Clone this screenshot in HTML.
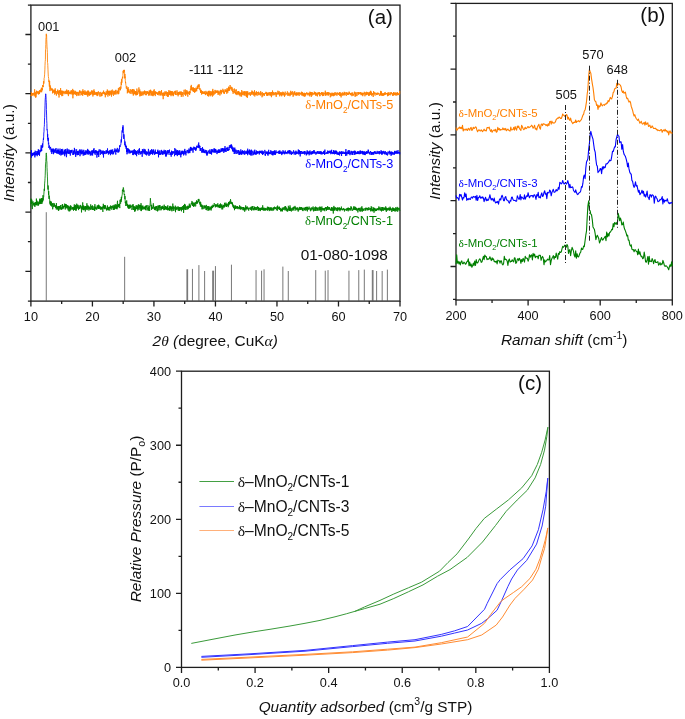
<!DOCTYPE html>
<html><head><meta charset="utf-8"><title>figure</title>
<style>html,body{margin:0;padding:0;background:#fff;width:685px;height:719px;overflow:hidden}svg{display:block}</style>
</head><body>
<svg width="685" height="719" viewBox="0 0 685 719" font-family="'Liberation Sans', Arial, sans-serif">
<rect x="30.9" y="5.1" width="369.1" height="296" fill="none" stroke="#1e1e1e" stroke-width="1.3"/>
<path d="M30.9 301.1v5.5 M92.42 301.1v5.5 M153.93 301.1v5.5 M215.45 301.1v5.5 M276.97 301.1v5.5 M338.48 301.1v5.5 M400 301.1v5.5 M61.66 301.1v3.0 M123.18 301.1v3.0 M184.69 301.1v3.0 M246.21 301.1v3.0 M307.73 301.1v3.0 M369.24 301.1v3.0" stroke="#1e1e1e" stroke-width="1.3" fill="none"/>
<path d="M30.9 34.5h-5.5 M30.9 93.7h-5.5 M30.9 152.9h-5.5 M30.9 212.1h-5.5 M30.9 271.3h-5.5 M30.9 5.1h-3.0 M30.9 64.1h-3.0 M30.9 123.3h-3.0 M30.9 182.5h-3.0 M30.9 241.7h-3.0 M30.9 301.1h-3.0" stroke="#1e1e1e" stroke-width="1.3" fill="none"/>
<text x="30.9" y="321.1" font-size="12.7" text-anchor="middle" fill="#111" >10</text>
<text x="92.42" y="321.1" font-size="12.7" text-anchor="middle" fill="#111" >20</text>
<text x="153.93" y="321.1" font-size="12.7" text-anchor="middle" fill="#111" >30</text>
<text x="215.45" y="321.1" font-size="12.7" text-anchor="middle" fill="#111" >40</text>
<text x="276.97" y="321.1" font-size="12.7" text-anchor="middle" fill="#111" >50</text>
<text x="338.48" y="321.1" font-size="12.7" text-anchor="middle" fill="#111" >60</text>
<text x="400" y="321.1" font-size="12.7" text-anchor="middle" fill="#111" >70</text>
<polyline points="30.9,95.2 31.1,96 31.2,95.1 31.4,92.2 31.5,96.1 31.7,95.3 31.8,93.5 32,95.5 32.1,95.1 32.3,94.9 32.4,94.4 32.6,95.3 32.7,93 32.9,94 33.1,93.4 33.2,95.3 33.4,94.3 33.5,93.7 33.7,92.8 33.8,93.7 34,94.1 34.1,93.6 34.3,96.3 34.4,95.8 34.6,89.3 34.7,90.7 34.9,93.7 35.1,93.2 35.2,94.3 35.4,94.2 35.5,97.5 35.7,91.9 35.8,93.1 36,97.3 36.1,94.8 36.3,94.8 36.4,92.7 36.6,90.7 36.7,93.8 36.9,93.7 37.1,91.3 37.2,92.2 37.4,93.2 37.5,91.6 37.7,93.1 37.8,93.3 38,93.2 38.1,92.2 38.3,94 38.4,94.5 38.6,93.4 38.7,91.3 38.9,94 39.1,91.7 39.2,94.1 39.4,90.6 39.5,93.9 39.7,92.2 39.8,90 40,91.5 40.1,92 40.3,92.2 40.4,89.9 40.6,89.6 40.7,91.7 40.9,90.3 41.1,91.4 41.2,92.1 41.4,87.7 41.5,90.8 41.7,92.2 41.8,89.3 42,88.1 42.1,90.5 42.3,89.3 42.4,90 42.6,87.4 42.7,85 42.9,86.8 43,85.6 43.2,87.1 43.4,85.3 43.5,81.3 43.7,81.1 43.8,83.7 44,82.1 44.1,78.4 44.3,77.9 44.4,76.9 44.6,74.8 44.7,73.1 44.9,69.2 45,65.4 45.2,61.5 45.4,59.8 45.5,49.7 45.7,48.8 45.8,44.6 46,37.9 46.1,37.6 46.3,33.8 46.4,35.9 46.6,35.3 46.7,39.3 46.9,44 47,46.9 47.2,49.3 47.4,52.7 47.5,62.5 47.7,63.1 47.8,65.5 48,69.9 48.1,72 48.3,76.1 48.4,76.6 48.6,78.3 48.7,78.5 48.9,81.9 49,80.4 49.2,84.3 49.4,86.7 49.5,82.2 49.7,81.3 49.8,87.2 50,91.1 50.1,85.5 50.3,85.5 50.4,89 50.6,86.9 50.7,87.8 50.9,88.4 51,90.2 51.2,88.8 51.4,90.2 51.5,89.6 51.7,88.6 51.8,89.7 52,88.8 52.1,90.6 52.3,88.7 52.4,88.9 52.6,93.4 52.7,90.9 52.9,91 53,92.1 53.2,90.6 53.4,91 53.5,92.2 53.7,92 53.8,89.6 54,93 54.1,90.7 54.3,89.9 54.4,90.2 54.6,91.1 54.7,94.6 54.9,89.9 55,92.2 55.2,88.3 55.4,92 55.5,93.6 55.7,91.6 55.8,91 56,92.5 56.1,93.4 56.3,93.3 56.4,95.6 56.6,92.6 56.7,91.3 56.9,92.1 57,92.2 57.2,92.5 57.4,92.3 57.5,92.7 57.7,89.6 57.8,93.9 58,91.5 58.1,90.5 58.3,93.6 58.4,94.8 58.6,93.4 58.7,92.8 58.9,91 59,97.5 59.2,94.1 59.4,90.7 59.5,91.3 59.7,92.8 59.8,90 60,92.9 60.1,91.9 60.3,94.8 60.4,94.3 60.6,88.1 60.7,92.8 60.9,90 61,94.6 61.2,93 61.4,93.7 61.5,90.9 61.7,95.9 61.8,96.2 62,91 62.1,93.4 62.3,91.7 62.4,92.8 62.6,90.7 62.7,96 62.9,91.2 63,92.3 63.2,93.7 63.4,91.8 63.5,92.5 63.7,91.9 63.8,92.6 64,90.9 64.1,92.1 64.3,92.5 64.4,92.3 64.6,93 64.7,92.4 64.9,94.2 65,92.4 65.2,92.7 65.3,91.8 65.5,92 65.7,90.8 65.8,93.8 66,91 66.1,91.7 66.3,93.6 66.4,93.6 66.6,92.3 66.7,89.5 66.9,93.7 67,93.4 67.2,90.6 67.3,94.3 67.5,91.8 67.7,91.1 67.8,93.2 68,92.7 68.1,93.3 68.3,90.3 68.4,96.1 68.6,92 68.7,90.4 68.9,94.1 69,92.4 69.2,93.6 69.3,92.4 69.5,92.9 69.7,93.4 69.8,91.8 70,94.2 70.1,92.2 70.3,91.6 70.4,93.2 70.6,93.8 70.7,92.7 70.9,91.6 71,94.1 71.2,90.1 71.3,91.3 71.5,93.1 71.7,90.8 71.8,93.1 72,93 72.1,94.6 72.3,91.5 72.4,92 72.6,93.6 72.7,88.9 72.9,98.3 73,91.9 73.2,91.8 73.3,94.5 73.5,93 73.7,90.1 73.8,94.1 74,94.5 74.1,92.3 74.3,92.6 74.4,93.9 74.6,91.6 74.7,93.8 74.9,93.4 75,92 75.2,90.8 75.3,92.7 75.5,91.6 75.7,94.8 75.8,93.3 76,94.4 76.1,93.3 76.3,93.6 76.4,91.8 76.6,94.2 76.7,96.1 76.9,92.6 77,92.1 77.2,92.9 77.3,92.3 77.5,91.9 77.7,93.4 77.8,92.6 78,95.5 78.1,93.1 78.3,93.7 78.4,94.7 78.6,92.6 78.7,95.5 78.9,92.1 79,91.8 79.2,92.5 79.3,92.9 79.5,90.8 79.7,93.1 79.8,90.3 80,95.5 80.1,93 80.3,92.1 80.4,91.6 80.6,92.5 80.7,92.8 80.9,91.4 81,91.6 81.2,92.8 81.3,92.3 81.5,94.7 81.7,95.1 81.8,93.2 82,93.9 82.1,90.9 82.3,94.2 82.4,93.1 82.6,94 82.7,95.8 82.9,89.3 83,93.6 83.2,91.3 83.3,94.1 83.5,91 83.7,92.3 83.8,93.5 84,94.2 84.1,93.3 84.3,91.8 84.4,92.2 84.6,94.6 84.7,93.2 84.9,90.3 85,94.6 85.2,93.9 85.3,94.6 85.5,92.6 85.6,94.5 85.8,91.4 86,94.1 86.1,92.3 86.3,94.3 86.4,94.8 86.6,91.9 86.7,93.1 86.9,93.2 87,95.2 87.2,94.4 87.3,91.1 87.5,93.9 87.6,94.4 87.8,96.7 88,90.4 88.1,92.3 88.3,95.4 88.4,90.9 88.6,91.2 88.7,94 88.9,94.9 89,92.1 89.2,94.1 89.3,93.4 89.5,95.7 89.6,93.2 89.8,94.8 90,91.7 90.1,92.9 90.3,93 90.4,95.1 90.6,94.1 90.7,91.9 90.9,94.3 91,94.5 91.2,93 91.3,92.7 91.5,92.9 91.6,90.4 91.8,93.5 92,93.6 92.1,91.7 92.3,94.4 92.4,90.9 92.6,92.3 92.7,92.4 92.9,96.5 93,90.5 93.2,94.1 93.3,94.7 93.5,93.8 93.6,95.1 93.8,91.5 94,89.4 94.1,94.4 94.3,91.2 94.4,92.6 94.6,91.2 94.7,94.9 94.9,94.6 95,92 95.2,94.7 95.3,93.4 95.5,92.9 95.6,93.3 95.8,92.8 96,94.2 96.1,93.7 96.3,92.6 96.4,94.8 96.6,92.2 96.7,93.6 96.9,93.9 97,95.6 97.2,92.3 97.3,96.1 97.5,93.5 97.6,92.8 97.8,92.1 98,94.1 98.1,93.2 98.3,91.3 98.4,91.3 98.6,92.2 98.7,92 98.9,95 99,95.4 99.2,94.6 99.3,93.8 99.5,92.5 99.6,93.2 99.8,94.6 100,96.7 100.1,94.7 100.3,92.7 100.4,93.2 100.6,92.4 100.7,91.9 100.9,92.8 101,93.5 101.2,96.2 101.3,93.2 101.5,95.4 101.6,96.1 101.8,93.3 102,95.8 102.1,94.3 102.3,92.4 102.4,93.6 102.6,93.2 102.7,92.8 102.9,92.8 103,93.4 103.2,93.8 103.3,91.7 103.5,93.1 103.6,90.6 103.8,93.5 104,94.1 104.1,93.4 104.3,93.6 104.4,94.1 104.6,92 104.7,92.7 104.9,93.9 105,94.7 105.2,93.7 105.3,97.3 105.5,92.9 105.6,94.7 105.8,95.2 106,92.9 106.1,91.7 106.3,91.1 106.4,93.3 106.6,94.9 106.7,93.5 106.9,93.3 107,92.4 107.2,94 107.3,89.5 107.5,93.4 107.6,93.1 107.8,90.8 107.9,96.6 108.1,90.8 108.3,91.3 108.4,91.1 108.6,94.8 108.7,91.6 108.9,94.1 109,94 109.2,93.4 109.3,90.8 109.5,92 109.6,95.7 109.8,90.9 109.9,91.6 110.1,92.7 110.3,94.3 110.4,93.3 110.6,94.1 110.7,91.2 110.9,94.5 111,93.8 111.2,90.3 111.3,95.4 111.5,96.6 111.6,91.6 111.8,92.9 111.9,95.1 112.1,90.4 112.3,89.6 112.4,90.7 112.6,91.9 112.7,91.8 112.9,93.8 113,93.2 113.2,90.7 113.3,93.6 113.5,95.8 113.6,94.6 113.8,94.3 113.9,92.7 114.1,94.2 114.3,91 114.4,93.8 114.6,92.4 114.7,94.4 114.9,93.3 115,90.7 115.2,92.6 115.3,94.4 115.5,90.5 115.6,91.4 115.8,91 115.9,89.8 116.1,93.8 116.3,94.3 116.4,93.4 116.6,92.5 116.7,92 116.9,92.4 117,90.7 117.2,93.3 117.3,93.5 117.5,93.2 117.6,90.8 117.8,91.7 117.9,91.2 118.1,94.3 118.3,91.6 118.4,88.1 118.6,91.7 118.7,94 118.9,91.9 119,92.1 119.2,90.6 119.3,87.1 119.5,87.2 119.6,87.9 119.8,89.5 119.9,90 120.1,90.3 120.3,88.3 120.4,90.1 120.6,87.7 120.7,86.6 120.9,88.7 121,85.3 121.2,81.8 121.3,83.9 121.5,85.1 121.6,79.2 121.8,82.8 121.9,81.9 122.1,79 122.3,77.8 122.4,78.2 122.6,76.8 122.7,78.3 122.9,75.5 123,70.9 123.2,70.8 123.3,72.2 123.5,73.2 123.6,70.2 123.8,69.9 123.9,72.6 124.1,70.1 124.3,70.5 124.4,69.9 124.6,72.6 124.7,78.4 124.9,74 125,77.7 125.2,76.7 125.3,80.4 125.5,82.8 125.6,82 125.8,84.5 125.9,85.4 126.1,85.7 126.3,88.4 126.4,87.5 126.6,86.3 126.7,86.2 126.9,86.4 127,89 127.2,88 127.3,93.3 127.5,92.2 127.6,89.1 127.8,89.2 127.9,92.7 128.1,87.1 128.3,89.6 128.4,92.1 128.6,89.2 128.7,90.1 128.9,90.4 129,92.2 129.2,91.4 129.3,92 129.5,92.4 129.6,91.6 129.8,93.4 129.9,90.5 130.1,89.5 130.2,89 130.4,89.3 130.6,91.1 130.7,93.7 130.9,92.4 131,91.2 131.2,90.5 131.3,91.4 131.5,91.6 131.6,91.4 131.8,90 131.9,91.6 132.1,94.1 132.2,89 132.4,92.1 132.6,89.1 132.7,92.8 132.9,91.4 133,89.3 133.2,92.8 133.3,95.6 133.5,92.8 133.6,94.6 133.8,92.6 133.9,89.3 134.1,93.5 134.2,92.1 134.4,90.4 134.6,94.1 134.7,93.3 134.9,92 135,94.2 135.2,91.5 135.3,93.9 135.5,91.4 135.6,93.8 135.8,91.2 135.9,95.3 136.1,93.4 136.2,95.2 136.4,91.6 136.6,92.2 136.7,94.3 136.9,88.6 137,91.3 137.2,94.7 137.3,93.8 137.5,94.6 137.6,92.5 137.8,93.9 137.9,91.9 138.1,90.9 138.2,90.4 138.4,92.2 138.6,92.2 138.7,92.1 138.9,87.4 139,89.9 139.2,92.3 139.3,93.6 139.5,92.2 139.6,91.7 139.8,89.5 139.9,96.4 140.1,91.4 140.2,95.8 140.4,95.6 140.6,93.6 140.7,92.3 140.9,93.4 141,91.3 141.2,93.6 141.3,93.2 141.5,94 141.6,94.7 141.8,96 141.9,92.6 142.1,94.9 142.2,91.9 142.4,91.8 142.6,92.2 142.7,91.7 142.9,94.8 143,94.7 143.2,95.3 143.3,93.2 143.5,93.7 143.6,92.3 143.8,91.4 143.9,94 144.1,93.7 144.2,91.5 144.4,94.2 144.6,90.5 144.7,93 144.9,92.3 145,92.4 145.2,91.5 145.3,94.8 145.5,94.2 145.6,95.2 145.8,93.5 145.9,91.2 146.1,92.7 146.2,91.4 146.4,94 146.6,95.2 146.7,93.8 146.9,92.3 147,92.7 147.2,93.6 147.3,91 147.5,93.5 147.6,93.6 147.8,92.4 147.9,92.6 148.1,93.5 148.2,92 148.4,92 148.6,94.5 148.7,93.6 148.9,95.9 149,91.7 149.2,90.5 149.3,94.8 149.5,94.8 149.6,92.1 149.8,91 149.9,93.2 150.1,90.5 150.2,92.7 150.4,89.8 150.5,92.9 150.7,89.9 150.9,92.9 151,95.7 151.2,92.9 151.3,94.5 151.5,92.3 151.6,91.9 151.8,90.9 151.9,94.9 152.1,93.2 152.2,95.8 152.4,91.4 152.5,92.9 152.7,93.4 152.9,95.5 153,96.2 153.2,92.3 153.3,91.5 153.5,90.5 153.6,95.4 153.8,93.1 153.9,92.3 154.1,93.2 154.2,89.3 154.4,90.6 154.5,94.8 154.7,93.9 154.9,93.5 155,91.7 155.2,94.2 155.3,96.1 155.5,91.4 155.6,93.3 155.8,92.6 155.9,93.9 156.1,93.3 156.2,93.1 156.4,91.9 156.5,93.3 156.7,92.3 156.9,93.1 157,93.2 157.2,94.3 157.3,92.4 157.5,92.8 157.6,95 157.8,93 157.9,92.9 158.1,94.7 158.2,93.7 158.4,93.5 158.5,93.7 158.7,91.4 158.9,94 159,95.4 159.2,94.2 159.3,90.9 159.5,93.8 159.6,91.9 159.8,93 159.9,93.5 160.1,91.5 160.2,95.4 160.4,93.2 160.5,94.6 160.7,94.3 160.9,95.4 161,95.2 161.2,91.1 161.3,93.4 161.5,90 161.6,92.7 161.8,94.5 161.9,94.8 162.1,95.4 162.2,92.8 162.4,93.9 162.5,93.5 162.7,95.3 162.9,95.8 163,92.8 163.2,99.2 163.3,93.4 163.5,92.8 163.6,94.3 163.8,94.5 163.9,94.2 164.1,92.4 164.2,95.7 164.4,93.5 164.5,95.8 164.7,95.5 164.9,91.4 165,91.9 165.2,91.8 165.3,93.8 165.5,93.5 165.6,93.8 165.8,92.1 165.9,94.1 166.1,95.6 166.2,91.3 166.4,93.1 166.5,93.8 166.7,93.2 166.9,93.1 167,96.1 167.2,95.4 167.3,94.7 167.5,92.2 167.6,96.9 167.8,94 167.9,92.5 168.1,92.9 168.2,92.7 168.4,96.7 168.5,93.7 168.7,93.5 168.9,90.1 169,94.6 169.2,91.8 169.3,91.7 169.5,94.4 169.6,92.1 169.8,94.7 169.9,95.1 170.1,90.7 170.2,93.2 170.4,91 170.5,93.3 170.7,94.8 170.9,91.3 171,96.2 171.2,93 171.3,91.6 171.5,93.2 171.6,94.6 171.8,91.3 171.9,93.4 172.1,91.3 172.2,95.3 172.4,93.7 172.5,92.8 172.7,95 172.8,91.5 173,92.8 173.2,96.2 173.3,93.2 173.5,95.5 173.6,93.7 173.8,92.4 173.9,93.1 174.1,93.5 174.2,92.8 174.4,92.2 174.5,92.2 174.7,91.2 174.8,93.6 175,94 175.2,94.6 175.3,90.7 175.5,94.7 175.6,93.4 175.8,91.3 175.9,93.6 176.1,94.7 176.2,94.2 176.4,94.5 176.5,94.9 176.7,94.8 176.8,93.4 177,90.3 177.2,92.3 177.3,94 177.5,92.7 177.6,94.5 177.8,94.6 177.9,93.5 178.1,96.3 178.2,92 178.4,94.8 178.5,92.7 178.7,92.3 178.8,94.3 179,92.5 179.2,94.7 179.3,91.7 179.5,93.5 179.6,92.2 179.8,93.1 179.9,92.9 180.1,91.8 180.2,94.4 180.4,91.6 180.5,92 180.7,94.8 180.8,94.9 181,94.5 181.2,94 181.3,96.9 181.5,91.6 181.6,92.3 181.8,92 181.9,94.8 182.1,93.9 182.2,95.1 182.4,94.9 182.5,93.1 182.7,92.2 182.8,92 183,96.7 183.2,94.9 183.3,94.3 183.5,92.9 183.6,93.1 183.8,92.9 183.9,92.9 184.1,89.8 184.2,93.3 184.4,92.8 184.5,93.8 184.7,93.7 184.8,94.6 185,93.3 185.2,94.5 185.3,89.5 185.5,91.7 185.6,95.9 185.8,91.5 185.9,92.8 186.1,94.3 186.2,91.9 186.4,94.3 186.5,91.1 186.7,90.3 186.8,91.2 187,90.6 187.2,93 187.3,92.6 187.5,93.5 187.6,91.4 187.8,96.7 187.9,92.8 188.1,92.8 188.2,93.5 188.4,92.4 188.5,91.8 188.7,92.8 188.8,94 189,93.5 189.2,93.8 189.3,91.5 189.5,91.1 189.6,95 189.8,91.5 189.9,92.3 190.1,92.5 190.2,93.2 190.4,88.8 190.5,89.8 190.7,89.5 190.8,89.4 191,86 191.2,89.2 191.3,84.9 191.5,89.5 191.6,89.8 191.8,89.9 191.9,87.4 192.1,90.7 192.2,88.2 192.4,87.8 192.5,88.3 192.7,88.7 192.8,90.3 193,91.4 193.2,87.2 193.3,89.6 193.5,91.7 193.6,90.7 193.8,91.1 193.9,88.2 194.1,91.7 194.2,88 194.4,90.5 194.5,92.2 194.7,92.9 194.8,90.9 195,91.4 195.1,89.2 195.3,89.3 195.5,91.7 195.6,89.9 195.8,89.6 195.9,87.7 196.1,89.9 196.2,90.5 196.4,88.2 196.5,88.5 196.7,91.3 196.8,89 197,88 197.1,86.5 197.3,86.9 197.5,87 197.6,89 197.8,85.8 197.9,89 198.1,84.8 198.2,85.4 198.4,87.1 198.5,85.5 198.7,84.7 198.8,86 199,87.1 199.1,84.3 199.3,86.9 199.5,87.5 199.6,87.6 199.8,89.7 199.9,88.2 200.1,88.9 200.2,89.9 200.4,91.3 200.5,90.2 200.7,92.9 200.8,89.7 201,93 201.1,90.1 201.3,91.2 201.5,92.1 201.6,94.6 201.8,93.1 201.9,91.3 202.1,93.8 202.2,91.7 202.4,91 202.5,92.8 202.7,92.4 202.8,93.7 203,91.6 203.1,93 203.3,93.4 203.5,92.9 203.6,92.6 203.8,91.7 203.9,94 204.1,92.9 204.2,93.5 204.4,92.3 204.5,92.9 204.7,91.4 204.8,93.1 205,94.1 205.1,93.2 205.3,94.3 205.5,93.6 205.6,95.1 205.8,92.9 205.9,90.9 206.1,93.8 206.2,93 206.4,91.9 206.5,94.2 206.7,93.7 206.8,94 207,92.9 207.1,93.6 207.3,93.7 207.5,95.9 207.6,92.4 207.8,93.4 207.9,94 208.1,91 208.2,91.2 208.4,96.5 208.5,91 208.7,94.3 208.8,92.3 209,92.4 209.1,90.7 209.3,92.2 209.5,94.6 209.6,91.5 209.8,94.3 209.9,93.9 210.1,96.3 210.2,92.8 210.4,95.2 210.5,94.7 210.7,93 210.8,91.1 211,95.5 211.1,91.4 211.3,92.7 211.5,94.6 211.6,94.9 211.8,92.1 211.9,93.2 212.1,92.8 212.2,94.8 212.4,96.6 212.5,90.5 212.7,94.3 212.8,88.9 213,92.9 213.1,91.2 213.3,95.5 213.5,92.9 213.6,91.6 213.8,91.9 213.9,91.7 214.1,92.7 214.2,92.2 214.4,93.2 214.5,94.4 214.7,93.2 214.8,90.5 215,89.9 215.1,91.1 215.3,93.6 215.5,91.6 215.6,91.1 215.8,92.2 215.9,90.1 216.1,90.4 216.2,92.8 216.4,91.6 216.5,91.4 216.7,92.5 216.8,91.3 217,91.2 217.1,91.5 217.3,93 217.4,92.3 217.6,90.5 217.8,91.8 217.9,93.2 218.1,94.9 218.2,90.7 218.4,92.8 218.5,91.9 218.7,93.5 218.8,92.9 219,94.4 219.1,93 219.3,91.5 219.4,91.5 219.6,92.8 219.8,92.8 219.9,95.5 220.1,94.5 220.2,90.5 220.4,92.6 220.5,90.2 220.7,89.8 220.8,93 221,92.7 221.1,90.5 221.3,94.2 221.4,90.5 221.6,90.2 221.8,92.6 221.9,92 222.1,91.4 222.2,91.5 222.4,91.8 222.5,91.3 222.7,91.2 222.8,88.8 223,89.5 223.1,92.1 223.3,90.3 223.4,91.9 223.6,92.8 223.8,90.6 223.9,91.4 224.1,93.9 224.2,91.9 224.4,93.5 224.5,93 224.7,91.9 224.8,90.6 225,89.6 225.1,89.2 225.3,91.4 225.4,91.3 225.6,90.4 225.8,91.8 225.9,89.7 226.1,92.1 226.2,90.6 226.4,90.5 226.5,90.5 226.7,90.3 226.8,93.8 227,88.2 227.1,90.6 227.3,92.1 227.4,91.3 227.6,89.9 227.8,92.7 227.9,88.8 228.1,88.4 228.2,90.9 228.4,88 228.5,86.7 228.7,91 228.8,90.6 229,90.4 229.1,88.5 229.3,89.2 229.4,87.3 229.6,90.7 229.8,89.2 229.9,88.9 230.1,85 230.2,88.5 230.4,89.2 230.5,88.8 230.7,88.1 230.8,87.1 231,86.7 231.1,88.1 231.3,88 231.4,88 231.6,87.6 231.8,90.6 231.9,87.1 232.1,89 232.2,88.6 232.4,91.1 232.5,91.9 232.7,92 232.8,91.6 233,88.9 233.1,93.8 233.3,91.9 233.4,91.2 233.6,91.5 233.8,91.1 233.9,92.3 234.1,92.2 234.2,91.4 234.4,88.5 234.5,92 234.7,92.7 234.8,92.8 235,92 235.1,92.8 235.3,93.7 235.4,91.7 235.6,94.3 235.8,89.8 235.9,90.8 236.1,91.3 236.2,89.3 236.4,91.3 236.5,94.3 236.7,94.3 236.8,92.8 237,95.1 237.1,93.1 237.3,92.2 237.4,93.2 237.6,92.7 237.7,93.9 237.9,91 238.1,94.3 238.2,92.4 238.4,94.2 238.5,91 238.7,92.6 238.8,93.2 239,94.4 239.1,91.6 239.3,95.4 239.4,93.9 239.6,92.6 239.7,94.9 239.9,93.4 240.1,94.9 240.2,96.4 240.4,94.4 240.5,92.7 240.7,92.8 240.8,94.2 241,93.8 241.1,92.3 241.3,92.6 241.4,94.3 241.6,96.6 241.7,90 241.9,94.5 242.1,93.2 242.2,94.5 242.4,94.7 242.5,93.6 242.7,92.2 242.8,91.7 243,91.1 243.1,95.2 243.3,93.3 243.4,92.9 243.6,93.2 243.7,91.8 243.9,94 244.1,95.3 244.2,95.1 244.4,91.5 244.5,95.4 244.7,92.6 244.8,91.1 245,92 245.1,92.4 245.3,93.6 245.4,92.3 245.6,91.6 245.7,93.3 245.9,96.2 246.1,92.7 246.2,94.3 246.4,93.7 246.5,97.1 246.7,91.2 246.8,95.1 247,92 247.1,92.9 247.3,93.5 247.4,97.8 247.6,92.7 247.7,91.2 247.9,95.4 248.1,92.6 248.2,93.3 248.4,93.6 248.5,93.8 248.7,93.4 248.8,94 249,94.2 249.1,94.8 249.3,93.1 249.4,92.7 249.6,92.3 249.7,94.4 249.9,93.6 250.1,94.4 250.2,94.4 250.4,95.9 250.5,93.9 250.7,94.6 250.8,92.1 251,92.3 251.1,93.3 251.3,92.1 251.4,94.6 251.6,91.9 251.7,93.8 251.9,90.5 252.1,92.2 252.2,93.2 252.4,93.3 252.5,91.4 252.7,93.8 252.8,94.9 253,94.5 253.1,92.8 253.3,92.9 253.4,92.1 253.6,94.5 253.7,95.5 253.9,93 254.1,91.5 254.2,93.9 254.4,94.6 254.5,90.2 254.7,93.9 254.8,96.5 255,94.7 255.1,94.4 255.3,94.2 255.4,95 255.6,92.5 255.7,92.6 255.9,94.2 256.1,92.8 256.2,94 256.4,91.2 256.5,94.7 256.7,94.8 256.8,93.7 257,93.9 257.1,95.8 257.3,92.3 257.4,92.5 257.6,92.3 257.7,93.1 257.9,92.4 258.1,93.7 258.2,92.9 258.4,91.8 258.5,91.7 258.7,95.2 258.8,93.6 259,93.4 259.1,93.7 259.3,93.6 259.4,94.7 259.6,94.4 259.7,92.9 259.9,92.6 260,92.3 260.2,92.1 260.4,95.5 260.5,92.5 260.7,91.1 260.8,92.6 261,92.7 261.1,94.1 261.3,92.6 261.4,94.4 261.6,94.2 261.7,95.3 261.9,96.4 262,97.3 262.2,95.4 262.4,92.2 262.5,93.2 262.7,94 262.8,96.3 263,94.6 263.1,95.2 263.3,93.5 263.4,94.4 263.6,94.6 263.7,93.1 263.9,94.7 264,95.1 264.2,93.5 264.4,95 264.5,95.8 264.7,93.8 264.8,93.7 265,93.3 265.1,92.9 265.3,93.9 265.4,93.2 265.6,93.3 265.7,92.7 265.9,91.8 266,92.5 266.2,94.1 266.4,92.2 266.5,92.9 266.7,95.8 266.8,95.1 267,92.8 267.1,94.5 267.3,92.9 267.4,95.7 267.6,93 267.7,93.8 267.9,95.4 268,92.7 268.2,95.3 268.4,92.7 268.5,94 268.7,93.3 268.8,93.6 269,93.9 269.1,93.6 269.3,92.4 269.4,94.8 269.6,94.6 269.7,95.3 269.9,95.4 270,92 270.2,95.3 270.4,95.3 270.5,93.1 270.7,95 270.8,95.5 271,93 271.1,92 271.3,93.3 271.4,97.2 271.6,94 271.7,92.2 271.9,93.4 272,92.5 272.2,93.2 272.4,93.8 272.5,90.5 272.7,94.2 272.8,95.5 273,93.5 273.1,93.2 273.3,95.1 273.4,92.2 273.6,92.2 273.7,92 273.9,93.5 274,94.2 274.2,93.6 274.4,94.4 274.5,94.7 274.7,94.3 274.8,92.7 275,93.4 275.1,95.3 275.3,92.4 275.4,93.4 275.6,93.2 275.7,93.5 275.9,92.4 276,92.1 276.2,96.9 276.4,94.9 276.5,92.9 276.7,93.7 276.8,94.6 277,93.3 277.1,94.5 277.3,93 277.4,93.3 277.6,93.6 277.7,93.2 277.9,90.7 278,93.8 278.2,94.1 278.4,94.3 278.5,92.5 278.7,94.2 278.8,94 279,91.6 279.1,91 279.3,94.3 279.4,92.6 279.6,95 279.7,96.3 279.9,93 280,92.9 280.2,93.7 280.4,94.6 280.5,92.3 280.7,95.3 280.8,94.9 281,94.5 281.1,93.1 281.3,94.9 281.4,94.8 281.6,92.3 281.7,96.3 281.9,93.4 282,94.2 282.2,93.1 282.3,94.2 282.5,95.2 282.7,92.8 282.8,91.7 283,93.2 283.1,92.2 283.3,92.8 283.4,93.6 283.6,93.7 283.7,95.3 283.9,92.5 284,94.2 284.2,93.1 284.3,95.4 284.5,96.8 284.7,94.1 284.8,95.8 285,93.1 285.1,91.8 285.3,92.2 285.4,91.8 285.6,92.6 285.7,93.5 285.9,95.1 286,94.6 286.2,94.3 286.3,93.2 286.5,92.9 286.7,93.8 286.8,93.9 287,94.1 287.1,94.2 287.3,93.6 287.4,91.4 287.6,92.4 287.7,92.8 287.9,95.8 288,93.2 288.2,94.6 288.3,95.5 288.5,94.2 288.7,93.3 288.8,93.4 289,92.5 289.1,94.1 289.3,95.1 289.4,94.4 289.6,94.7 289.7,94.6 289.9,96.2 290,93 290.2,93.9 290.3,94.6 290.5,95.3 290.7,90.8 290.8,93.1 291,93.5 291.1,92.5 291.3,94.8 291.4,94 291.6,93.3 291.7,91.8 291.9,92.2 292,92.6 292.2,94.3 292.3,92.3 292.5,91.3 292.7,92 292.8,93 293,95.8 293.1,96.8 293.3,93.2 293.4,94.9 293.6,95.5 293.7,95.3 293.9,93.6 294,92.2 294.2,93.2 294.3,91.5 294.5,94.1 294.7,94.7 294.8,91.5 295,93.7 295.1,94.1 295.3,95.3 295.4,95.4 295.6,94.7 295.7,92.9 295.9,93.3 296,95.2 296.2,93 296.3,93.7 296.5,95.6 296.7,93.9 296.8,92.1 297,93.4 297.1,94.5 297.3,93.5 297.4,95.2 297.6,95.3 297.7,93 297.9,93.2 298,93.6 298.2,92.3 298.3,94.2 298.5,93.6 298.7,94.7 298.8,93.1 299,92.7 299.1,96 299.3,92.7 299.4,93.1 299.6,92.9 299.7,93.4 299.9,92.7 300,93.7 300.2,92.9 300.3,93.3 300.5,94.2 300.7,94.6 300.8,94.3 301,92.9 301.1,94.3 301.3,93.6 301.4,93.7 301.6,91.7 301.7,94.6 301.9,93.6 302,95.8 302.2,94.6 302.3,92.4 302.5,92.1 302.6,95.2 302.8,92.7 303,94.6 303.1,93.4 303.3,96.3 303.4,93.9 303.6,95.6 303.7,95.4 303.9,93.2 304,93.4 304.2,95.6 304.3,93.8 304.5,92.8 304.6,95.2 304.8,96.9 305,93.8 305.1,95.5 305.3,93.6 305.4,95.4 305.6,93.5 305.7,95.4 305.9,94.5 306,93.6 306.2,94.1 306.3,93.2 306.5,92.5 306.6,92.6 306.8,93.8 307,92.6 307.1,94.4 307.3,94.5 307.4,94.4 307.6,93.3 307.7,93.9 307.9,93.8 308,95.4 308.2,92.9 308.3,93.4 308.5,93.6 308.6,93.7 308.8,93 309,93.1 309.1,95.1 309.3,93.1 309.4,95 309.6,96.3 309.7,95.4 309.9,91.7 310,94.8 310.2,94.5 310.3,94.5 310.5,92 310.6,94.8 310.8,92.6 311,95.4 311.1,95.2 311.3,96.9 311.4,93.4 311.6,92.1 311.7,95.1 311.9,94.9 312,93.4 312.2,95.5 312.3,94.7 312.5,92.4 312.6,93.5 312.8,93.4 313,93.8 313.1,94.1 313.3,93.1 313.4,93.6 313.6,94.6 313.7,93.8 313.9,93.6 314,93.5 314.2,93.8 314.3,91.6 314.5,94.1 314.6,92.7 314.8,94 315,92.1 315.1,95 315.3,94.2 315.4,92.3 315.6,94.2 315.7,93 315.9,96 316,94.5 316.2,92.9 316.3,94.2 316.5,93.9 316.6,95.3 316.8,94.3 317,94.5 317.1,92.6 317.3,94.8 317.4,96.4 317.6,94.6 317.7,93.9 317.9,94.1 318,92.8 318.2,94.1 318.3,92.6 318.5,94 318.6,93.4 318.8,92.9 319,94.6 319.1,92.1 319.3,93.9 319.4,92.3 319.6,96.1 319.7,96.2 319.9,94.9 320,96.1 320.2,94.6 320.3,94.5 320.5,93.4 320.6,92.9 320.8,94.1 321,93.3 321.1,93.4 321.3,94.8 321.4,93.8 321.6,92.1 321.7,93.7 321.9,93 322,93.6 322.2,92.6 322.3,95.3 322.5,96.1 322.6,92.6 322.8,94.7 323,94.6 323.1,92.6 323.3,94 323.4,95.6 323.6,94.9 323.7,95.8 323.9,92.5 324,93 324.2,94.2 324.3,94.3 324.5,93.9 324.6,93.4 324.8,93.4 324.9,93.2 325.1,94.4 325.3,90.7 325.4,95.8 325.6,93.3 325.7,92.2 325.9,94.5 326,92.3 326.2,94.3 326.3,93.4 326.5,94.6 326.6,94.8 326.8,95.4 326.9,93.3 327.1,93.5 327.3,93.9 327.4,92.2 327.6,94.6 327.7,94 327.9,92.3 328,95.3 328.2,95.5 328.3,92.3 328.5,94.6 328.6,95.3 328.8,94.9 328.9,92.7 329.1,92.3 329.3,93.7 329.4,93.3 329.6,93.9 329.7,93.8 329.9,94.5 330,93.2 330.2,93.7 330.3,97.3 330.5,93.7 330.6,94.7 330.8,94.2 330.9,94.1 331.1,92.8 331.3,94.5 331.4,93.8 331.6,94.8 331.7,96.3 331.9,94.1 332,94.8 332.2,92.7 332.3,94 332.5,95.7 332.6,93.8 332.8,93.1 332.9,94.1 333.1,93.7 333.3,93.6 333.4,93.4 333.6,96.2 333.7,92.9 333.9,93.4 334,93.2 334.2,95.3 334.3,93.6 334.5,95.4 334.6,94.1 334.8,93.9 334.9,92.2 335.1,95.3 335.3,94.5 335.4,94.4 335.6,93.7 335.7,93.4 335.9,92.4 336,95 336.2,94.2 336.3,93.5 336.5,93.2 336.6,94 336.8,93.8 336.9,95.8 337.1,94.8 337.3,93.2 337.4,92.6 337.6,93.6 337.7,92.8 337.9,94 338,94.4 338.2,94.6 338.3,94.4 338.5,93.7 338.6,94.6 338.8,92.9 338.9,93.8 339.1,94.8 339.3,94.2 339.4,92.4 339.6,92.6 339.7,92 339.9,96 340,92.1 340.2,93.7 340.3,96 340.5,95.1 340.6,95.4 340.8,93.3 340.9,94.8 341.1,97.4 341.3,93.9 341.4,94.4 341.6,93.5 341.7,93.9 341.9,94.3 342,95.5 342.2,92.9 342.3,92.3 342.5,93.9 342.6,94.2 342.8,95.5 342.9,94.7 343.1,93.2 343.3,94.6 343.4,95.2 343.6,94.2 343.7,93.5 343.9,94.7 344,93.5 344.2,91.8 344.3,95.4 344.5,92.4 344.6,93.5 344.8,93.6 344.9,93.5 345.1,93.6 345.3,92.3 345.4,94.5 345.6,93.9 345.7,94 345.9,95.1 346,95.2 346.2,95.4 346.3,96 346.5,94.4 346.6,92.2 346.8,94.2 346.9,93.9 347.1,94 347.2,93.2 347.4,92.9 347.6,94.8 347.7,95 347.9,92.6 348,94.5 348.2,93.7 348.3,93.5 348.5,94.7 348.6,93.9 348.8,93.3 348.9,94 349.1,91.6 349.2,93.2 349.4,93.4 349.6,92.3 349.7,94.1 349.9,94.2 350,93.2 350.2,93.7 350.3,94.7 350.5,95.1 350.6,93 350.8,94.3 350.9,95.1 351.1,93.9 351.2,93 351.4,93 351.6,93.5 351.7,92.7 351.9,96.2 352,93.3 352.2,94.3 352.3,94.1 352.5,94.6 352.6,93.5 352.8,92.4 352.9,95.8 353.1,93.8 353.2,94 353.4,94.1 353.6,95.3 353.7,94.8 353.9,95.2 354,94.8 354.2,94.1 354.3,94.2 354.5,93.1 354.6,91.7 354.8,93.6 354.9,92.7 355.1,96.8 355.2,95.7 355.4,95.2 355.6,93.3 355.7,96.2 355.9,92 356,92.5 356.2,93 356.3,92.8 356.5,94.1 356.6,94.1 356.8,96.1 356.9,95 357.1,95.3 357.2,94.4 357.4,93.7 357.6,93.1 357.7,92.2 357.9,92.9 358,93.5 358.2,94.8 358.3,92 358.5,92.4 358.6,94.2 358.8,92.7 358.9,94.3 359.1,93.4 359.2,93.1 359.4,92.4 359.6,93.8 359.7,93.1 359.9,93.2 360,93.2 360.2,94.1 360.3,94.1 360.5,92 360.6,93.7 360.8,94.4 360.9,95.1 361.1,94.8 361.2,94.2 361.4,92.6 361.6,93 361.7,94.9 361.9,93.1 362,95.1 362.2,95.4 362.3,92.7 362.5,94.4 362.6,93.8 362.8,96.2 362.9,94.9 363.1,93.3 363.2,94.4 363.4,92.9 363.6,93.7 363.7,94.2 363.9,94.1 364,94.3 364.2,92.9 364.3,91.8 364.5,93.5 364.6,92.9 364.8,93.1 364.9,96.3 365.1,95.2 365.2,93.7 365.4,92.3 365.6,92.5 365.7,94.3 365.9,95.1 366,93.6 366.2,94.1 366.3,94.2 366.5,95.1 366.6,91.8 366.8,94.1 366.9,94.4 367.1,95 367.2,94.4 367.4,92.7 367.5,93.3 367.7,92.2 367.9,94.1 368,94.1 368.2,94.5 368.3,92.8 368.5,92.7 368.6,95.6 368.8,94.1 368.9,95.9 369.1,94.4 369.2,92.3 369.4,94.8 369.5,95.3 369.7,93.4 369.9,91.8 370,94.7 370.2,93.8 370.3,94.2 370.5,90.9 370.6,94.4 370.8,90.9 370.9,93 371.1,94.9 371.2,91.9 371.4,91.9 371.5,93.4 371.7,95.8 371.9,95.7 372,93.3 372.2,95.1 372.3,94.6 372.5,94.2 372.6,94.3 372.8,93.1 372.9,94.8 373.1,95.1 373.2,97 373.4,95 373.5,91.2 373.7,92.6 373.9,94.3 374,94 374.2,91.9 374.3,93.8 374.5,93.5 374.6,93.9 374.8,93.8 374.9,95 375.1,95.6 375.2,94.7 375.4,92.7 375.5,93 375.7,93.2 375.9,93.9 376,93.5 376.2,93.6 376.3,92.9 376.5,95 376.6,94.9 376.8,95 376.9,93.9 377.1,94.4 377.2,92.9 377.4,92.8 377.5,93.3 377.7,94.6 377.9,93.8 378,92.7 378.2,94.1 378.3,94.4 378.5,94.1 378.6,93.2 378.8,94 378.9,93.5 379.1,93.6 379.2,93.9 379.4,94.8 379.5,96 379.7,95.7 379.9,94.6 380,93.5 380.2,93.6 380.3,93.7 380.5,95.2 380.6,90.9 380.8,94.2 380.9,91.8 381.1,94 381.2,95.4 381.4,93 381.5,91.4 381.7,95.4 381.9,95.6 382,94.5 382.2,95.3 382.3,93.1 382.5,95.3 382.6,95.8 382.8,94.7 382.9,94.3 383.1,95.4 383.2,95.2 383.4,93.1 383.5,95.5 383.7,94.8 383.9,94.1 384,95.4 384.2,95 384.3,94.8 384.5,93.4 384.6,94.9 384.8,92.7 384.9,93.8 385.1,92.1 385.2,92.1 385.4,94.5 385.5,93.9 385.7,94.1 385.9,94.6 386,94.4 386.2,93 386.3,94 386.5,93.9 386.6,93.4 386.8,93.8 386.9,93.6 387.1,93.3 387.2,93.6 387.4,94.2 387.5,96.2 387.7,93.1 387.9,94.5 388,92.4 388.2,95.7 388.3,93.6 388.5,94.1 388.6,95.4 388.8,95.1 388.9,92.3 389.1,94.6 389.2,93.7 389.4,94.7 389.5,94.1 389.7,94.8 389.8,94.3 390,93.8 390.2,95.3 390.3,92.3 390.5,93.5 390.6,92.9 390.8,93.8 390.9,93.5 391.1,93.8 391.2,93.4 391.4,93.5 391.5,92.2 391.7,93.9 391.8,94.3 392,93.3 392.2,93.3 392.3,93.3 392.5,95.8 392.6,94.2 392.8,94.4 392.9,93.7 393.1,93.4 393.2,93 393.4,95.7 393.5,92.1 393.7,94.3 393.8,94 394,93.7 394.2,92.3 394.3,92.6 394.5,95.1 394.6,93.2 394.8,94.9 394.9,94.7 395.1,94.6 395.2,94.8 395.4,92.7 395.5,93.5 395.7,94.7 395.8,92.6 396,95.8 396.2,93.4 396.3,93.9 396.5,92.9 396.6,94.4 396.8,93.2 396.9,93.7 397.1,92.8 397.2,95.3 397.4,92.2 397.5,94.5 397.7,94.3 397.8,94.5 398,92.9 398.2,95.1 398.3,95 398.5,94.2 398.6,94.3 398.8,93.8 398.9,94.7 399.1,93.1 399.2,94.6 399.4,94.4 399.5,92.5 399.7,91.1 399.8,93.9 400,93.8" fill="none" stroke="#ff7f00" stroke-width="0.85" stroke-linejoin="round" />
<polyline points="30.9,154.9 31.1,153.6 31.2,153.8 31.4,150.2 31.5,157.6 31.7,156.4 31.8,153.8 32,155.7 32.1,154.8 32.3,153.3 32.4,156 32.6,153.7 32.7,153.7 32.9,152.8 33.1,155 33.2,154 33.4,155.1 33.5,153 33.7,154.3 33.8,152.5 34,155.4 34.1,154.3 34.3,154.5 34.4,154.6 34.6,152.1 34.7,155.2 34.9,157.4 35.1,150.9 35.2,150.7 35.4,151 35.5,155.1 35.7,153.8 35.8,155.4 36,154.7 36.1,153.8 36.3,153.9 36.4,153 36.6,154.8 36.7,151.2 36.9,152.4 37.1,153.5 37.2,156.2 37.4,151.6 37.5,151 37.7,151.9 37.8,154.4 38,152.3 38.1,154.9 38.3,149.3 38.4,154.4 38.6,154.1 38.7,149.8 38.9,152.4 39.1,154.1 39.2,152.1 39.4,153.5 39.5,155.8 39.7,152 39.8,150.9 40,149.9 40.1,152.2 40.3,150.5 40.4,150.4 40.6,150.3 40.7,151.4 40.9,148.1 41.1,147.1 41.2,145.2 41.4,151.2 41.5,148.9 41.7,151 41.8,147.9 42,146.2 42.1,147.8 42.3,146.2 42.4,143.6 42.6,143.5 42.7,147.3 42.9,143.9 43,142.9 43.2,140.6 43.4,138.5 43.5,139.7 43.7,136.2 43.8,133 44,131.8 44.1,127.7 44.3,126.5 44.4,124.7 44.6,117.4 44.7,117 44.9,108.9 45,105.8 45.2,99.8 45.4,97.4 45.5,95.5 45.7,93.8 45.8,94.1 46,96.5 46.1,99.8 46.3,102.7 46.4,109.5 46.6,115.1 46.7,120.2 46.9,123.6 47,130.2 47.2,129.5 47.4,130.9 47.5,137.2 47.7,134.2 47.8,139.4 48,137.6 48.1,141.2 48.3,138.3 48.4,144.3 48.6,143.3 48.7,142.7 48.9,148 49,147 49.2,146.3 49.4,145.5 49.5,147.1 49.7,147.3 49.8,149.2 50,149.6 50.1,147.4 50.3,147.9 50.4,148.1 50.6,146.9 50.7,148.4 50.9,149.5 51,151 51.2,152.2 51.4,148.7 51.5,151.2 51.7,149.6 51.8,154 52,150.5 52.1,151.5 52.3,149.1 52.4,149.4 52.6,151.2 52.7,150.3 52.9,151.6 53,148.4 53.2,152.3 53.4,149.6 53.5,154.2 53.7,150.8 53.8,153.2 54,148.9 54.1,152.1 54.3,149.9 54.4,150.6 54.6,151.5 54.7,150.9 54.9,152 55,152.8 55.2,152.7 55.4,151.4 55.5,149.2 55.7,150.2 55.8,151.3 56,148 56.1,153 56.3,151.3 56.4,151.3 56.6,153.4 56.7,152.9 56.9,152.2 57,150.1 57.2,152.4 57.4,152.5 57.5,150.4 57.7,153.7 57.8,152.8 58,148.6 58.1,152.2 58.3,149.8 58.4,153.9 58.6,153.4 58.7,150.1 58.9,150.5 59,152.2 59.2,151.6 59.4,154.7 59.5,153.3 59.7,151.6 59.8,153.1 60,148.6 60.1,152.7 60.3,153.6 60.4,151.8 60.6,150.9 60.7,153.1 60.9,155.5 61,152.5 61.2,150.3 61.4,154.7 61.5,149 61.7,153.1 61.8,151.2 62,153.8 62.1,150.8 62.3,154.5 62.4,152.8 62.6,149.3 62.7,148.9 62.9,151.7 63,154.5 63.2,152.5 63.4,152.4 63.5,151.9 63.7,153.5 63.8,152.9 64,152.8 64.1,150.6 64.3,154.3 64.4,154.6 64.6,150.1 64.7,156.2 64.9,153.6 65,151.5 65.2,149.1 65.3,153.5 65.5,153.3 65.7,151.3 65.8,149.3 66,154.3 66.1,151.4 66.3,151.6 66.4,157.2 66.6,156 66.7,154 66.9,151.6 67,153.5 67.2,148.5 67.3,152.6 67.5,151.1 67.7,150.2 67.8,149.7 68,153.3 68.1,152.5 68.3,152.7 68.4,153.8 68.6,151 68.7,150.3 68.9,149.4 69,151.8 69.2,153.7 69.3,152.2 69.5,153.5 69.7,150.4 69.8,151.6 70,151.1 70.1,150.3 70.3,155.6 70.4,153.9 70.6,151.1 70.7,151.1 70.9,152.3 71,150 71.2,153.2 71.3,150.2 71.5,151.8 71.7,150.7 71.8,151.6 72,150.2 72.1,149.8 72.3,150.8 72.4,151.3 72.6,152 72.7,152.6 72.9,155 73,153.8 73.2,152 73.3,153.7 73.5,151.3 73.7,154.9 73.8,153.4 74,150.2 74.1,153.7 74.3,153.8 74.4,147.9 74.6,151.2 74.7,151.7 74.9,149.2 75,150.7 75.2,150.9 75.3,153.3 75.5,153 75.7,156.9 75.8,151.8 76,154.4 76.1,152.6 76.3,152.9 76.4,150.5 76.6,149.3 76.7,151.2 76.9,153.8 77,155.2 77.2,153.5 77.3,153.3 77.5,151.1 77.7,155.1 77.8,154.8 78,151.6 78.1,152.4 78.3,150.8 78.4,155 78.6,153.2 78.7,152.3 78.9,153.2 79,153.2 79.2,151.8 79.3,150.4 79.5,150.3 79.7,149.6 79.8,153.3 80,156.2 80.1,149.6 80.3,152.7 80.4,153.2 80.6,150.8 80.7,152.8 80.9,150.7 81,154.5 81.2,151.5 81.3,152.7 81.5,153.7 81.7,151.8 81.8,149.5 82,151.6 82.1,153.8 82.3,152.4 82.4,152.9 82.6,150.7 82.7,152.7 82.9,153.7 83,152.6 83.2,155.7 83.3,152.2 83.5,150.8 83.7,149.8 83.8,154.4 84,152.4 84.1,154.2 84.3,153.3 84.4,155.2 84.6,154.6 84.7,151.9 84.9,153 85,154.3 85.2,150.4 85.3,154.9 85.5,154.5 85.6,154.2 85.8,152.2 86,153 86.1,150.6 86.3,152.6 86.4,151.5 86.6,152.7 86.7,151.7 86.9,153 87,154.5 87.2,150.3 87.3,154.1 87.5,149.2 87.6,148.9 87.8,152.3 88,152.5 88.1,153.3 88.3,149.8 88.4,152.4 88.6,152.7 88.7,154.6 88.9,152.3 89,153.4 89.2,150.9 89.3,152.2 89.5,151.8 89.6,153.7 89.8,150.9 90,151.1 90.1,153.5 90.3,155.5 90.4,153.2 90.6,153 90.7,151.9 90.9,154.3 91,153.4 91.2,155.4 91.3,153.1 91.5,150.9 91.6,151.6 91.8,150.9 92,150.4 92.1,154.6 92.3,153.9 92.4,150.5 92.6,155.5 92.7,152.9 92.9,150.9 93,153.2 93.2,152.4 93.3,151.2 93.5,149.3 93.6,152.6 93.8,153 94,148.2 94.1,153.4 94.3,153.5 94.4,151.7 94.6,152.7 94.7,152 94.9,151.1 95,151.9 95.2,154.8 95.3,150.1 95.5,152.9 95.6,152.8 95.8,151.3 96,151.8 96.1,150.2 96.3,151.1 96.4,152.5 96.6,153 96.7,151 96.9,157.6 97,151.6 97.2,152.7 97.3,152.1 97.5,151.8 97.6,154.7 97.8,151.7 98,154.7 98.1,154.4 98.3,150.8 98.4,154.2 98.6,151.4 98.7,157 98.9,151.9 99,150.9 99.2,149.3 99.3,150.4 99.5,151.5 99.6,150.8 99.8,150.5 100,151.3 100.1,152.1 100.3,154.9 100.4,149.7 100.6,151.6 100.7,150.9 100.9,150 101,150.4 101.2,151 101.3,153.7 101.5,152.2 101.6,151.6 101.8,153.5 102,152.9 102.1,152.1 102.3,153.1 102.4,151.1 102.6,153.5 102.7,153.2 102.9,151.8 103,150.4 103.2,155 103.3,152.6 103.5,157.5 103.6,151.4 103.8,153.8 104,151.7 104.1,152.9 104.3,153.8 104.4,151.1 104.6,152.3 104.7,152.7 104.9,152.6 105,153.4 105.2,154.1 105.3,153.8 105.5,152.8 105.6,151.8 105.8,150.6 106,151.2 106.1,151.5 106.3,153.5 106.4,151.8 106.6,150.3 106.7,153.4 106.9,151.1 107,151.1 107.2,152 107.3,153.1 107.5,148.4 107.6,150.5 107.8,152.6 107.9,151.8 108.1,150.9 108.3,151.5 108.4,154.6 108.6,151.6 108.7,153.5 108.9,153.6 109,151.6 109.2,153 109.3,151.6 109.5,151.3 109.6,150.4 109.8,153.7 109.9,151.6 110.1,151.4 110.3,150.4 110.4,155.2 110.6,153.4 110.7,152 110.9,151.1 111,149.7 111.2,152.7 111.3,152.7 111.5,149.9 111.6,154.1 111.8,153.4 111.9,150.6 112.1,151.2 112.3,151.4 112.4,152.4 112.6,151.8 112.7,149.4 112.9,154.5 113,152.5 113.2,154.1 113.3,154 113.5,151.6 113.6,152.5 113.8,153.1 113.9,153.2 114.1,151.6 114.3,150.9 114.4,151.9 114.6,150.5 114.7,150.9 114.9,148.4 115,151.8 115.2,150 115.3,150.7 115.5,151.5 115.6,152.1 115.8,154.6 115.9,151.8 116.1,149.1 116.3,151.6 116.4,150.3 116.6,151.9 116.7,150.1 116.9,150 117,150.2 117.2,149.9 117.3,147.9 117.5,149.7 117.6,150.6 117.8,152.5 117.9,150 118.1,149.7 118.3,151.1 118.4,150.9 118.6,152.4 118.7,150.6 118.9,149.4 119,151.4 119.2,151.5 119.3,148 119.5,148.7 119.6,145.4 119.8,147.1 119.9,145.9 120.1,146.5 120.3,145.5 120.4,145.5 120.6,144.9 120.7,145.1 120.9,143.9 121,141.7 121.2,139.4 121.3,142.4 121.5,141.4 121.6,136.9 121.8,137.1 121.9,132.1 122.1,130.5 122.3,131.1 122.4,132.5 122.6,127.4 122.7,127 122.9,130.7 123,125.3 123.2,130.1 123.3,130.9 123.5,131.2 123.6,133.3 123.8,138.9 123.9,134.4 124.1,137.2 124.3,138.7 124.4,139.3 124.6,139.4 124.7,145.2 124.9,143.9 125,141.5 125.2,144 125.3,146.4 125.5,147 125.6,144.5 125.8,147.2 125.9,148.2 126.1,148.7 126.3,149.1 126.4,145.8 126.6,152 126.7,149.6 126.9,152.4 127,154.3 127.2,149.6 127.3,148 127.5,151.6 127.6,150 127.8,149.7 127.9,148.9 128.1,153.4 128.3,150.1 128.4,148.6 128.6,150.2 128.7,149.2 128.9,151.4 129,150.5 129.2,149.6 129.3,152.3 129.5,150.3 129.6,152.6 129.8,153.5 129.9,150.9 130.1,150.5 130.2,151.9 130.4,153.1 130.6,151.7 130.7,152 130.9,151.7 131,152.3 131.2,152.8 131.3,150.7 131.5,151.1 131.6,152 131.8,150.9 131.9,152.2 132.1,152.8 132.2,152 132.4,151 132.6,150.8 132.7,154.9 132.9,153.5 133,150.3 133.2,150.8 133.3,155.1 133.5,154.6 133.6,152.4 133.8,154 133.9,149.8 134.1,152.2 134.2,153.4 134.4,149.2 134.6,151 134.7,153.5 134.9,154.1 135,151.3 135.2,152.7 135.3,154.8 135.5,151.7 135.6,150.2 135.8,152.2 135.9,151.7 136.1,154.4 136.2,152.6 136.4,151 136.6,156.2 136.7,151.5 136.9,153.1 137,153.4 137.2,153.6 137.3,152.6 137.5,153.3 137.6,152.3 137.8,150.1 137.9,152 138.1,152.1 138.2,152.1 138.4,152.6 138.6,151.4 138.7,154.5 138.9,154.9 139,148.9 139.2,152.4 139.3,151.3 139.5,148.3 139.6,153.1 139.8,151.5 139.9,151.8 140.1,151.4 140.2,154.2 140.4,154.4 140.6,152.9 140.7,153.6 140.9,152.3 141,152.7 141.2,151.3 141.3,152.5 141.5,151.3 141.6,153.1 141.8,153.8 141.9,153 142.1,154.4 142.2,156.8 142.4,149.1 142.6,152.5 142.7,151.6 142.9,151.8 143,150.3 143.2,152.6 143.3,152.1 143.5,151.5 143.6,152.1 143.8,151.6 143.9,148.8 144.1,154.2 144.2,152 144.4,151 144.6,153 144.7,151.5 144.9,149.1 145,153.9 145.2,149.9 145.3,152.2 145.5,152.7 145.6,154.7 145.8,154.4 145.9,152.8 146.1,151.3 146.2,151.9 146.4,154.3 146.6,155.4 146.7,153.4 146.9,151.5 147,154.2 147.2,152 147.3,151.9 147.5,152.1 147.6,153.5 147.8,153 147.9,154.1 148.1,154.6 148.2,153.4 148.4,148.9 148.6,149.9 148.7,152.8 148.9,152.5 149,156 149.2,152.5 149.3,152.3 149.5,154.1 149.6,154.3 149.8,152.2 149.9,153.3 150.1,150.8 150.2,151.1 150.4,154.5 150.5,150.4 150.7,154 150.9,153.6 151,153.8 151.2,154 151.3,153.5 151.5,149.2 151.6,151 151.8,151.6 151.9,154 152.1,150.8 152.2,151.5 152.4,152 152.5,154.7 152.7,150.3 152.9,150.5 153,153.6 153.2,149.2 153.3,153.1 153.5,151.9 153.6,150.1 153.8,151.9 153.9,151 154.1,152.9 154.2,153.2 154.4,154.9 154.5,152.6 154.7,152.8 154.9,151.7 155,152.6 155.2,154.2 155.3,149.6 155.5,153.6 155.6,151.8 155.8,152.7 155.9,153.1 156.1,153.9 156.2,153 156.4,152 156.5,153.1 156.7,152.6 156.9,152.3 157,152.9 157.2,154 157.3,152.8 157.5,152.9 157.6,150.6 157.8,152.4 157.9,149.7 158.1,153.7 158.2,151.1 158.4,154.6 158.5,157.3 158.7,152 158.9,154.7 159,153.2 159.2,151.7 159.3,151.3 159.5,153.5 159.6,154.8 159.8,153.2 159.9,150.3 160.1,151 160.2,152.3 160.4,154.7 160.5,153.1 160.7,153.1 160.9,154.5 161,152.3 161.2,152.5 161.3,152.3 161.5,149.9 161.6,153.3 161.8,153.3 161.9,154.1 162.1,150.8 162.2,151.4 162.4,154.1 162.5,153.1 162.7,154.8 162.9,151.3 163,152.9 163.2,151.6 163.3,153.1 163.5,151.9 163.6,153.5 163.8,154.3 163.9,153.7 164.1,149.8 164.2,154.1 164.4,153.3 164.5,151 164.7,151.3 164.9,152.6 165,153.5 165.2,151.9 165.3,150.1 165.5,153.1 165.6,152.9 165.8,156.4 165.9,150.6 166.1,156.5 166.2,155.3 166.4,153.1 166.5,155.2 166.7,152.8 166.9,154.1 167,151.5 167.2,152.8 167.3,151.1 167.5,150.2 167.6,152.2 167.8,151.6 167.9,153.5 168.1,154.6 168.2,152.4 168.4,152.7 168.5,152.9 168.7,150.1 168.9,153 169,152.7 169.2,152.6 169.3,151 169.5,149.6 169.6,152.3 169.8,153.1 169.9,154.7 170.1,154.4 170.2,154.9 170.4,153.2 170.5,154.4 170.7,152.3 170.9,153.6 171,154.1 171.2,156.7 171.3,153 171.5,150.7 171.6,154.7 171.8,151.4 171.9,152.6 172.1,152.2 172.2,151.3 172.4,154.7 172.5,153.6 172.7,151.7 172.8,152.7 173,152 173.2,153.6 173.3,152.1 173.5,151.5 173.6,151.7 173.8,152 173.9,153.1 174.1,151.3 174.2,152.5 174.4,153.3 174.5,156.2 174.7,153.9 174.8,148.1 175,151.9 175.2,152 175.3,153.1 175.5,155 175.6,153.8 175.8,149.2 175.9,153.1 176.1,152.8 176.2,153.3 176.4,154.7 176.5,151 176.7,154.3 176.8,150.2 177,152.7 177.2,153.2 177.3,156.1 177.5,151.6 177.6,150.1 177.8,153.7 177.9,151.7 178.1,155 178.2,151.6 178.4,151.3 178.5,154.5 178.7,152.8 178.8,154.2 179,150.5 179.2,155.1 179.3,151.8 179.5,153.9 179.6,151.1 179.8,150.3 179.9,152.3 180.1,152.9 180.2,155 180.4,153.2 180.5,153.7 180.7,153.6 180.8,157.3 181,151.4 181.2,154.5 181.3,152.4 181.5,153 181.6,151.8 181.8,154.4 181.9,150.8 182.1,150.7 182.2,152.3 182.4,150.9 182.5,153.7 182.7,154 182.8,151.5 183,153.8 183.2,151.6 183.3,152.5 183.5,152.6 183.6,155.4 183.8,152.6 183.9,151.2 184.1,151.2 184.2,154.4 184.4,150.1 184.5,151.9 184.7,152 184.8,148.9 185,151.8 185.2,154 185.3,152.8 185.5,151.1 185.6,153.5 185.8,153.2 185.9,155.4 186.1,151.3 186.2,151.8 186.4,152.4 186.5,152.1 186.7,152.5 186.8,152.1 187,151.2 187.2,149.9 187.3,151.4 187.5,150.1 187.6,150.6 187.8,151.3 187.9,152.8 188.1,153.3 188.2,150.4 188.4,152.4 188.5,153.1 188.7,151.8 188.8,149.3 189,148.5 189.2,152.8 189.3,152.8 189.5,151.7 189.6,149.6 189.8,153.1 189.9,152.6 190.1,150.5 190.2,149.9 190.4,147.1 190.5,150.7 190.7,146.9 190.8,150 191,149.8 191.2,148.6 191.3,150.6 191.5,147.7 191.6,149 191.8,149.3 191.9,148.6 192.1,147.8 192.2,150.4 192.4,149.3 192.5,148.6 192.7,148.8 192.8,149.4 193,152.7 193.2,149.6 193.3,149.1 193.5,147.9 193.6,147.7 193.8,146.7 193.9,149.8 194.1,149.5 194.2,147.9 194.4,147.2 194.5,148.8 194.7,148.5 194.8,147.3 195,149.6 195.1,149.3 195.3,149 195.5,150.2 195.6,148 195.8,150.9 195.9,147.4 196.1,149.5 196.2,149.6 196.4,148.1 196.5,148.8 196.7,146.2 196.8,145.7 197,147.2 197.1,146.2 197.3,147.7 197.5,146.5 197.6,147 197.8,146.2 197.9,145.7 198.1,145.3 198.2,144.5 198.4,144.3 198.5,147.9 198.7,142.5 198.8,145 199,147 199.1,146.5 199.3,148.3 199.5,147.5 199.6,145.4 199.8,147.2 199.9,146.1 200.1,150 200.2,151 200.4,148.6 200.5,150.4 200.7,149.2 200.8,148 201,149.6 201.1,148.1 201.3,149.7 201.5,151 201.6,151.8 201.8,152.7 201.9,150.5 202.1,151.4 202.2,151.7 202.4,152 202.5,147.1 202.7,150.2 202.8,152.5 203,149.8 203.1,151.8 203.3,152.7 203.5,148.9 203.6,151.4 203.8,152 203.9,151.8 204.1,149.6 204.2,152.3 204.4,151.1 204.5,153.1 204.7,152.6 204.8,151.2 205,152.3 205.1,151.1 205.3,151.1 205.5,149.9 205.6,151.8 205.8,153.3 205.9,152.4 206.1,152.2 206.2,151.4 206.4,151.5 206.5,153.4 206.7,150.2 206.8,155.3 207,152.3 207.1,155.5 207.3,154 207.5,151.8 207.6,153.4 207.8,152.8 207.9,153.1 208.1,153.5 208.2,151.6 208.4,151.5 208.5,151.8 208.7,150.5 208.8,152.1 209,152.8 209.1,152.8 209.3,152.7 209.5,151.9 209.6,153.5 209.8,149.5 209.9,151.9 210.1,151.9 210.2,153.7 210.4,153.3 210.5,153.5 210.7,152.4 210.8,153.7 211,150.9 211.1,152.4 211.3,149.3 211.5,154.6 211.6,154.4 211.8,151.3 211.9,150.9 212.1,149.1 212.2,149.9 212.4,152.1 212.5,151.7 212.7,149.8 212.8,151.1 213,150.8 213.1,152.4 213.3,152.6 213.5,151.3 213.6,151.7 213.8,151.4 213.9,148.5 214.1,151.6 214.2,151.2 214.4,152.3 214.5,148.6 214.7,152.2 214.8,150.2 215,151.4 215.1,152.7 215.3,148.9 215.5,149.1 215.6,152.3 215.8,149.3 215.9,149.6 216.1,151.8 216.2,150.7 216.4,152 216.5,151.4 216.7,150.9 216.8,152.4 217,154.1 217.1,150.9 217.3,153.1 217.4,152.7 217.6,151.3 217.8,151.8 217.9,149.9 218.1,150.3 218.2,151.6 218.4,151.1 218.5,153 218.7,149.4 218.8,150.8 219,150.3 219.1,151 219.3,152.8 219.4,149.5 219.6,152.3 219.8,150.3 219.9,150.7 220.1,152.5 220.2,150.7 220.4,152 220.5,151.2 220.7,150.7 220.8,150.4 221,148.5 221.1,149.8 221.3,151 221.4,151 221.6,148.6 221.8,152 221.9,151.4 222.1,148.8 222.2,149.1 222.4,151.2 222.5,148 222.7,149.3 222.8,150.2 223,150.1 223.1,150.1 223.3,150.7 223.4,149 223.6,149.4 223.8,152.9 223.9,148 224.1,149.3 224.2,150 224.4,149 224.5,151.5 224.7,149.9 224.8,150.8 225,146.1 225.1,151.3 225.3,151.2 225.4,148.6 225.6,151.4 225.8,149.9 225.9,150.8 226.1,152 226.2,149.6 226.4,148.1 226.5,149.4 226.7,147.7 226.8,148.3 227,148.3 227.1,148.4 227.3,150.9 227.4,150.5 227.6,148.1 227.8,150.8 227.9,146.9 228.1,148.3 228.2,148.9 228.4,150.6 228.5,149.9 228.7,149.3 228.8,150.3 229,149.3 229.1,150 229.3,146.8 229.4,145.3 229.6,146.8 229.8,148.2 229.9,147.2 230.1,147.8 230.2,147.3 230.4,146.9 230.5,147.2 230.7,145.1 230.8,147.5 231,144.7 231.1,146.1 231.3,144.5 231.4,147.4 231.6,144.9 231.8,149.2 231.9,145.8 232.1,148.4 232.2,148.2 232.4,147.5 232.5,150.7 232.7,148.7 232.8,151.5 233,148.4 233.1,148.9 233.3,147.5 233.4,151.1 233.6,151.7 233.8,150.9 233.9,150.5 234.1,149.5 234.2,154 234.4,151.9 234.5,148.5 234.7,150.6 234.8,147.6 235,153.3 235.1,153.9 235.3,153.2 235.4,151.2 235.6,150.6 235.8,149.5 235.9,152.2 236.1,150.5 236.2,151 236.4,150.7 236.5,151.2 236.7,152.9 236.8,154 237,151.9 237.1,151.8 237.3,150.3 237.4,150.2 237.6,150.5 237.7,153.1 237.9,152.3 238.1,153.3 238.2,152.6 238.4,151.5 238.5,150.4 238.7,151.6 238.8,150.2 239,154.8 239.1,152.5 239.3,151.7 239.4,154.9 239.6,151.7 239.7,153 239.9,152.1 240.1,152.8 240.2,151.8 240.4,153 240.5,154.3 240.7,150.7 240.8,149.4 241,154.2 241.1,152.7 241.3,153.6 241.4,152.1 241.6,154.5 241.7,154.9 241.9,150.9 242.1,153.4 242.2,151.7 242.4,150.4 242.5,152.1 242.7,153.3 242.8,150.7 243,150.8 243.1,154.2 243.3,152.6 243.4,153.1 243.6,151 243.7,151.7 243.9,152.7 244.1,152.8 244.2,152.8 244.4,154.7 244.5,152.8 244.7,150.5 244.8,151.4 245,152.5 245.1,154.3 245.3,151.6 245.4,152 245.6,152.5 245.7,151.6 245.9,151.5 246.1,152.2 246.2,153.9 246.4,153.2 246.5,152.2 246.7,153.1 246.8,150.8 247,153.9 247.1,153.5 247.3,152.9 247.4,150.4 247.6,155.2 247.7,148.7 247.9,151.2 248.1,151.3 248.2,153.5 248.4,150.6 248.5,152.9 248.7,152.3 248.8,152.2 249,153.7 249.1,154.4 249.3,153.1 249.4,152.2 249.6,149.5 249.7,154.5 249.9,152.2 250.1,150.1 250.2,152.8 250.4,154.5 250.5,152.4 250.7,151 250.8,155.5 251,153.4 251.1,153 251.3,153.9 251.4,149.7 251.6,152.5 251.7,152.4 251.9,155.5 252.1,151.8 252.2,151.8 252.4,150.8 252.5,151.5 252.7,152.3 252.8,152.9 253,152.3 253.1,155.2 253.3,153.2 253.4,153.4 253.6,154.4 253.7,153.4 253.9,151.9 254.1,150.6 254.2,153.1 254.4,151.5 254.5,154.3 254.7,151.6 254.8,149.7 255,152.6 255.1,154 255.3,152.3 255.4,152.8 255.6,152.8 255.7,154.8 255.9,153 256.1,152.5 256.2,151.8 256.4,150.5 256.5,154.4 256.7,154.1 256.8,151.3 257,153.4 257.1,153 257.3,152.1 257.4,152.2 257.6,153.6 257.7,151 257.9,151.9 258.1,152.5 258.2,152.6 258.4,152.3 258.5,152.9 258.7,153.3 258.8,151.4 259,152.7 259.1,151.9 259.3,154.5 259.4,150.8 259.6,152.3 259.7,153.5 259.9,152.2 260,152.2 260.2,151.9 260.4,153 260.5,151.1 260.7,152.5 260.8,152.5 261,150.7 261.1,153 261.3,152 261.4,153 261.6,153.7 261.7,153.1 261.9,151.1 262,153 262.2,150.6 262.4,151.6 262.5,154.8 262.7,152.6 262.8,154.6 263,152.4 263.1,152.6 263.3,151.2 263.4,153.8 263.6,152.4 263.7,153.4 263.9,153.2 264,153.3 264.2,153.1 264.4,152.6 264.5,152.7 264.7,151.8 264.8,149.9 265,153.3 265.1,155.3 265.3,154 265.4,155.7 265.6,153.3 265.7,151.5 265.9,151.4 266,153.6 266.2,153.1 266.4,152.5 266.5,153.6 266.7,151.6 266.8,153.4 267,152.4 267.1,152.9 267.3,154.2 267.4,152.5 267.6,154.5 267.7,154.4 267.9,151.8 268,155.7 268.2,151.2 268.4,152.6 268.5,153.7 268.7,149.8 268.8,154 269,154.2 269.1,152.6 269.3,153.1 269.4,153 269.6,152.5 269.7,154.1 269.9,152.3 270,152.7 270.2,153.2 270.4,153.8 270.5,154.1 270.7,150.9 270.8,150.2 271,152.6 271.1,152.7 271.3,151.4 271.4,153.1 271.6,153.5 271.7,153.2 271.9,154.8 272,151.4 272.2,152.8 272.4,155.2 272.5,153.6 272.7,151.3 272.8,153 273,154.2 273.1,155.3 273.3,153.6 273.4,154.2 273.6,151.3 273.7,152.4 273.9,154.2 274,151.5 274.2,152.7 274.4,150.4 274.5,154.6 274.7,152.6 274.8,153.4 275,150.9 275.1,151.1 275.3,155 275.4,152.3 275.6,152.1 275.7,153.4 275.9,153.4 276,150.3 276.2,151.5 276.4,152.8 276.5,152.7 276.7,153.2 276.8,152.2 277,152.4 277.1,153 277.3,151.9 277.4,151.7 277.6,152 277.7,152.7 277.9,152.5 278,152.1 278.2,152.4 278.4,152.7 278.5,153.1 278.7,153.2 278.8,151.1 279,153.9 279.1,150.7 279.3,153.4 279.4,151.8 279.6,153.4 279.7,154 279.9,150.4 280,153.5 280.2,153.1 280.4,152.1 280.5,153.2 280.7,152.1 280.8,152.9 281,151.4 281.1,153.7 281.3,153.4 281.4,153.6 281.6,151.9 281.7,155 281.9,155.1 282,152.6 282.2,152.2 282.3,152.2 282.5,153.6 282.7,154 282.8,151.8 283,150.2 283.1,153.3 283.3,152.7 283.4,152.9 283.6,153.3 283.7,151.3 283.9,152.8 284,152.3 284.2,153.2 284.3,154.2 284.5,152.7 284.7,151.7 284.8,154.2 285,153.6 285.1,152.5 285.3,150.5 285.4,151.6 285.6,152.9 285.7,153.4 285.9,152 286,153.2 286.2,151.9 286.3,152.2 286.5,153.3 286.7,152.4 286.8,152.9 287,153.8 287.1,154.1 287.3,152 287.4,152.4 287.6,151.1 287.7,151.1 287.9,153 288,152 288.2,150.4 288.3,153.3 288.5,151.6 288.7,152.3 288.8,153.2 289,153.2 289.1,152.6 289.3,150.2 289.4,153.4 289.6,151.9 289.7,150.9 289.9,150 290,154.3 290.2,152.8 290.3,152.8 290.5,153.4 290.7,152.6 290.8,150.9 291,153.5 291.1,153.9 291.3,153.3 291.4,154.5 291.6,155 291.7,151.7 291.9,152.1 292,153.8 292.2,152.9 292.3,152.9 292.5,153.8 292.7,153.6 292.8,152.1 293,152.8 293.1,151.8 293.3,152.4 293.4,151.3 293.6,150.3 293.7,152.1 293.9,152 294,153.8 294.2,154.6 294.3,152.7 294.5,153.3 294.7,151.9 294.8,151.6 295,152.3 295.1,152.3 295.3,153.1 295.4,152.8 295.6,154.7 295.7,152.4 295.9,150.7 296,152.8 296.2,151.9 296.3,152.9 296.5,154.1 296.7,151.9 296.8,152.6 297,153.3 297.1,151.6 297.3,153 297.4,153.4 297.6,153.7 297.7,154 297.9,153.4 298,153.2 298.2,151 298.3,149.5 298.5,151.6 298.7,154.4 298.8,152.9 299,150 299.1,152.2 299.3,153.2 299.4,150.5 299.6,153.4 299.7,151.3 299.9,154 300,152.8 300.2,156.4 300.3,151.1 300.5,153.1 300.7,151 300.8,154.1 301,152.9 301.1,153.8 301.3,152.9 301.4,151.3 301.6,152 301.7,151.3 301.9,151.5 302,152.9 302.2,154 302.3,153.8 302.5,153.4 302.6,152.1 302.8,153.3 303,151.7 303.1,153 303.3,153.7 303.4,152.5 303.6,152.2 303.7,152.2 303.9,153.5 304,152.4 304.2,151 304.3,152.2 304.5,151.5 304.6,154.5 304.8,152.8 305,151 305.1,153.1 305.3,153.6 305.4,153.2 305.6,152.3 305.7,152.9 305.9,153.1 306,153.9 306.2,153.2 306.3,155.4 306.5,152.5 306.6,154.6 306.8,152.8 307,150.7 307.1,151.3 307.3,150.6 307.4,150.7 307.6,154.2 307.7,152 307.9,153.5 308,151.7 308.2,152.7 308.3,151.5 308.5,153.8 308.6,152.4 308.8,152.2 309,152.6 309.1,155.3 309.3,153.3 309.4,153.7 309.6,151.3 309.7,152 309.9,153.1 310,150.5 310.2,154.3 310.3,153.1 310.5,152.7 310.6,152.5 310.8,152.5 311,152.1 311.1,154.4 311.3,153.6 311.4,154.2 311.6,152.4 311.7,151.7 311.9,154.3 312,151.3 312.2,152 312.3,153.6 312.5,154 312.6,151.2 312.8,152.4 313,152.8 313.1,152.6 313.3,151.7 313.4,153.5 313.6,152.1 313.7,152.5 313.9,150.1 314,152.6 314.2,150.5 314.3,153.6 314.5,153.3 314.6,152.1 314.8,152.9 315,152.9 315.1,152.6 315.3,153.2 315.4,152.6 315.6,152.2 315.7,151.8 315.9,154.7 316,153 316.2,152.7 316.3,153.6 316.5,152.3 316.6,152.3 316.8,153.5 317,154 317.1,153.5 317.3,151 317.4,152.8 317.6,152.7 317.7,153.3 317.9,151.7 318,151.5 318.2,152.6 318.3,151.7 318.5,151.5 318.6,152.7 318.8,153.8 319,152.9 319.1,154 319.3,151.6 319.4,153.6 319.6,152.7 319.7,151.7 319.9,152.3 320,151.7 320.2,152.5 320.3,151.9 320.5,154.2 320.6,152.3 320.8,151.1 321,152.5 321.1,153.2 321.3,152.4 321.4,153.7 321.6,151.7 321.7,151.8 321.9,154.6 322,152.7 322.2,153.4 322.3,153.3 322.5,153.4 322.6,152.8 322.8,152.5 323,154 323.1,152.2 323.3,152.9 323.4,153.5 323.6,152.3 323.7,151 323.9,153.3 324,154 324.2,153 324.3,150.8 324.5,153.5 324.6,155 324.8,151 324.9,149.6 325.1,152.5 325.3,152.8 325.4,153.7 325.6,153.7 325.7,152.9 325.9,153.4 326,153.1 326.2,152.9 326.3,152.7 326.5,152.6 326.6,153.6 326.8,153.2 326.9,152.3 327.1,154 327.3,151.9 327.4,152.5 327.6,152.9 327.7,150.6 327.9,152.3 328,153.7 328.2,153.7 328.3,151.4 328.5,151.8 328.6,151.5 328.8,152.5 328.9,152.7 329.1,150.9 329.3,153.1 329.4,152.8 329.6,152.7 329.7,152 329.9,152.6 330,150.7 330.2,153 330.3,153 330.5,152.6 330.6,151.4 330.8,154.2 330.9,154 331.1,150.6 331.3,153.2 331.4,152.9 331.6,149.8 331.7,153.3 331.9,153.5 332,153.6 332.2,152.9 332.3,152 332.5,152.2 332.6,153.3 332.8,154.1 332.9,152.2 333.1,152.4 333.3,153.6 333.4,150.3 333.6,153.3 333.7,152.5 333.9,150.3 334,153.6 334.2,151.7 334.3,153.7 334.5,154.3 334.6,151.4 334.8,151.4 334.9,152.8 335.1,150.8 335.3,153.6 335.4,153 335.6,153.9 335.7,150.7 335.9,153 336,153.3 336.2,150.7 336.3,153.8 336.5,151.2 336.6,153 336.8,151.3 336.9,153.7 337.1,154.7 337.3,152.9 337.4,152.8 337.6,154.3 337.7,152.3 337.9,152.8 338,153.7 338.2,153.3 338.3,154.6 338.5,154.2 338.6,155 338.8,152.8 338.9,154.1 339.1,151.9 339.3,153.9 339.4,154.8 339.6,155.5 339.7,151.4 339.9,152.7 340,153.7 340.2,151.9 340.3,153.5 340.5,153.5 340.6,152.3 340.8,152.3 340.9,151.8 341.1,153.2 341.3,154.3 341.4,153.2 341.6,156 341.7,151.2 341.9,152.2 342,153.6 342.2,151.6 342.3,153.3 342.5,153.8 342.6,153.1 342.8,152.6 342.9,153.9 343.1,153.3 343.3,153.7 343.4,153.5 343.6,152.1 343.7,151.6 343.9,152.4 344,153.1 344.2,152.7 344.3,153.9 344.5,153.2 344.6,154 344.8,153 344.9,152.1 345.1,153.8 345.3,153.4 345.4,151.9 345.6,152.4 345.7,156 345.9,149.1 346,154.1 346.2,152.9 346.3,152.8 346.5,152.5 346.6,152.3 346.8,155.5 346.9,152.3 347.1,152.5 347.2,153.7 347.4,153.3 347.6,152.6 347.7,152.5 347.9,151.3 348,154 348.2,151.6 348.3,150.1 348.5,154 348.6,153.7 348.8,153.2 348.9,152.2 349.1,154.2 349.2,151.6 349.4,150.3 349.6,153 349.7,153.7 349.9,153.5 350,155.2 350.2,153.7 350.3,152.5 350.5,152.6 350.6,153.8 350.8,152.7 350.9,152.6 351.1,150.8 351.2,152.4 351.4,151.3 351.6,153.1 351.7,152.9 351.9,153.6 352,154.8 352.2,152.6 352.3,154.4 352.5,151.5 352.6,153 352.8,153.9 352.9,155 353.1,151.5 353.2,152.5 353.4,153 353.6,152.7 353.7,151.7 353.9,150.9 354,151.4 354.2,152.7 354.3,151.3 354.5,154.8 354.6,154.2 354.8,150.6 354.9,152.2 355.1,154.3 355.2,154.4 355.4,154.1 355.6,151.2 355.7,152.4 355.9,154.2 356,152.9 356.2,152.3 356.3,153.4 356.5,153.9 356.6,153 356.8,153.1 356.9,154 357.1,152.2 357.2,151.8 357.4,153.7 357.6,151.4 357.7,153.4 357.9,152 358,153.7 358.2,151.4 358.3,154.1 358.5,153.1 358.6,152.4 358.8,151.8 358.9,152.6 359.1,151.7 359.2,151.4 359.4,154 359.6,153.5 359.7,154.2 359.9,151.3 360,150.6 360.2,151 360.3,153.5 360.5,153.7 360.6,150.7 360.8,153.9 360.9,152.3 361.1,151.4 361.2,152.7 361.4,153.4 361.6,152.5 361.7,152.6 361.9,151.8 362,151.2 362.2,152.4 362.3,150.9 362.5,153.5 362.6,151.8 362.8,154.3 362.9,151 363.1,154.4 363.2,151.8 363.4,151.8 363.6,153.1 363.7,153.8 363.9,152.7 364,152.4 364.2,155 364.3,153.3 364.5,151.4 364.6,152.5 364.8,154.7 364.9,153.1 365.1,153.7 365.2,155.1 365.4,152.1 365.6,153.2 365.7,152 365.9,152.8 366,153.4 366.2,151.3 366.3,152.9 366.5,152.9 366.6,154 366.8,152.1 366.9,151.3 367.1,153.2 367.2,151.5 367.4,153 367.5,153.4 367.7,151.8 367.9,152.6 368,151.6 368.2,149.6 368.3,151.1 368.5,150.4 368.6,152.8 368.8,151.6 368.9,152.6 369.1,152.7 369.2,154 369.4,152.4 369.5,152.3 369.7,153.3 369.9,154.6 370,152.7 370.2,153.1 370.3,152.6 370.5,152 370.6,151 370.8,152.7 370.9,152.5 371.1,152.5 371.2,155 371.4,152.4 371.5,153.1 371.7,152.4 371.9,154.1 372,152.4 372.2,154.9 372.3,152.5 372.5,153.6 372.6,153.9 372.8,152.5 372.9,153.7 373.1,152.8 373.2,151.9 373.4,152 373.5,153.1 373.7,154.8 373.9,152.2 374,153.4 374.2,151.9 374.3,153.1 374.5,151.3 374.6,151.9 374.8,152.8 374.9,151.9 375.1,152.5 375.2,153.9 375.4,152.6 375.5,152 375.7,151.4 375.9,152.2 376,154.1 376.2,152.7 376.3,152.6 376.5,153.6 376.6,153.7 376.8,153.9 376.9,152.4 377.1,151.8 377.2,150.9 377.4,152 377.5,152.4 377.7,153.6 377.9,153.1 378,152.1 378.2,153.8 378.3,151.4 378.5,151.6 378.6,151.5 378.8,151.6 378.9,152.5 379.1,151.8 379.2,151.9 379.4,154.3 379.5,151.1 379.7,151.6 379.9,152.5 380,153.3 380.2,153.3 380.3,152.5 380.5,152.4 380.6,152.5 380.8,153.6 380.9,151.8 381.1,150.2 381.2,153 381.4,151.5 381.5,152.7 381.7,154.3 381.9,152.9 382,154.8 382.2,151 382.3,153 382.5,153.2 382.6,153.7 382.8,152 382.9,153 383.1,152.9 383.2,152.9 383.4,151.3 383.5,150.9 383.7,153.4 383.9,153.2 384,152.8 384.2,153.5 384.3,154 384.5,151.5 384.6,153.7 384.8,154.4 384.9,153.9 385.1,153.4 385.2,153.6 385.4,151.2 385.5,152.3 385.7,153.9 385.9,154.4 386,153.3 386.2,152.3 386.3,152.7 386.5,153.8 386.6,155 386.8,153.7 386.9,152.3 387.1,153.5 387.2,153.3 387.4,155.5 387.5,153.5 387.7,152.9 387.9,152.8 388,151.5 388.2,151.7 388.3,152.3 388.5,151.9 388.6,153 388.8,153 388.9,153.9 389.1,154.5 389.2,153 389.4,152.6 389.5,150.8 389.7,153.3 389.8,153.6 390,152 390.2,152.4 390.3,152.1 390.5,154 390.6,153.5 390.8,154.2 390.9,151.5 391.1,155.8 391.2,151.9 391.4,151.7 391.5,153 391.7,152.2 391.8,154.8 392,152.4 392.2,152.1 392.3,153.9 392.5,154.2 392.6,151.9 392.8,152.3 392.9,152.4 393.1,152.7 393.2,154.7 393.4,154.2 393.5,154 393.7,154.2 393.8,152.8 394,153.8 394.2,152.7 394.3,152 394.5,154.6 394.6,150.9 394.8,152.8 394.9,152.2 395.1,151 395.2,152.4 395.4,152.9 395.5,153.3 395.7,151.9 395.8,153.6 396,153.1 396.2,153.7 396.3,150.7 396.5,152.3 396.6,152.1 396.8,153.4 396.9,152 397.1,152.2 397.2,151.6 397.4,151.5 397.5,151.8 397.7,153.8 397.8,151.6 398,150.1 398.2,153.1 398.3,152.3 398.5,153.4 398.6,153.4 398.8,152.4 398.9,152.3 399.1,152.2 399.2,152.8 399.4,151.9 399.5,153 399.7,154.3 399.8,152.1 400,152.1" fill="none" stroke="#0000ff" stroke-width="0.85" stroke-linejoin="round" />
<polyline points="30.9,206.7 31.1,198.7 31.2,203.9 31.4,202.2 31.5,202.4 31.7,202.8 31.8,199.7 32,202.8 32.1,201.7 32.3,209.1 32.4,203.7 32.6,202.7 32.7,202.8 32.9,202.2 33.1,201.5 33.2,202.7 33.4,204.2 33.5,203 33.7,205.1 33.8,203.1 34,203.5 34.1,206.1 34.3,204.4 34.4,202.6 34.6,203.1 34.7,204.4 34.9,206.9 35.1,203 35.2,203.1 35.4,205.2 35.5,202 35.7,203 35.8,205 36,204.5 36.1,203.7 36.3,204.7 36.4,198.6 36.6,205.3 36.7,201.8 36.9,200.6 37.1,204 37.2,204.7 37.4,202.7 37.5,201.6 37.7,203.5 37.8,203.3 38,205.8 38.1,204.7 38.3,203.7 38.4,205.3 38.6,202.9 38.7,201.7 38.9,204.2 39.1,204.2 39.2,202.8 39.4,201.7 39.5,203.4 39.7,198.7 39.8,204.1 40,203.7 40.1,199.9 40.3,202.8 40.4,200.9 40.6,203.8 40.7,198.8 40.9,200.7 41.1,203.4 41.2,204 41.4,198.1 41.5,200.8 41.7,202 41.8,200.1 42,203.7 42.1,198.6 42.3,201 42.4,198.2 42.6,202.1 42.7,199.2 42.9,198.1 43,195.2 43.2,200.5 43.4,198.2 43.5,197.5 43.7,197.2 43.8,194.9 44,192 44.1,190.4 44.3,188.8 44.4,190.8 44.6,183.9 44.7,183 44.9,180.8 45,178.6 45.2,175.8 45.4,168.9 45.5,164.1 45.7,163.1 45.8,161.5 46,157.6 46.1,154.6 46.3,152.9 46.4,154.8 46.6,155.9 46.7,160.9 46.9,161.9 47,167.6 47.2,171.2 47.4,176.1 47.5,179 47.7,186.2 47.8,187.1 48,189.5 48.1,185.5 48.3,190.3 48.4,191.4 48.6,194.8 48.7,191.1 48.9,198.1 49,198.9 49.2,195.6 49.4,196.9 49.5,197.9 49.7,199.9 49.8,201.5 50,204.4 50.1,200.9 50.3,203 50.4,202.3 50.6,205.4 50.7,203.9 50.9,205.3 51,201.3 51.2,203.1 51.4,202.2 51.5,206.4 51.7,205.1 51.8,203.7 52,203.6 52.1,205.3 52.3,203.4 52.4,203.2 52.6,205.7 52.7,209.3 52.9,204.7 53,204.3 53.2,203.3 53.4,203.2 53.5,206.4 53.7,207.1 53.8,205.7 54,206.4 54.1,206.1 54.3,206.2 54.4,203.4 54.6,205.3 54.7,206.4 54.9,204.9 55,205.5 55.2,205 55.4,205.8 55.5,207.9 55.7,205.8 55.8,206.3 56,208 56.1,207.7 56.3,209.5 56.4,203.1 56.6,208.1 56.7,205.9 56.9,207 57,208.2 57.2,208.6 57.4,208.6 57.5,207.1 57.7,209.6 57.8,206.4 58,206.6 58.1,208.3 58.3,206 58.4,210.6 58.6,208.7 58.7,210.7 58.9,206.9 59,206.3 59.2,207.3 59.4,208.3 59.5,206 59.7,207.7 59.8,207 60,209.8 60.1,205.9 60.3,208.9 60.4,206 60.6,205.4 60.7,205.9 60.9,205.1 61,207.4 61.2,208.9 61.4,207.4 61.5,208.2 61.7,209.9 61.8,207.6 62,207.5 62.1,206.7 62.3,204.4 62.4,208.5 62.6,204.2 62.7,208.3 62.9,207.2 63,209.1 63.2,207.1 63.4,205.8 63.5,207.8 63.7,206.3 63.8,206.9 64,207.3 64.1,207 64.3,206.9 64.4,205.9 64.6,207 64.7,203.6 64.9,207 65,205.3 65.2,209.2 65.3,209.5 65.5,204 65.7,207.6 65.8,207.1 66,205.5 66.1,208.2 66.3,206.5 66.4,204.3 66.6,206.9 66.7,207.1 66.9,207.5 67,205.3 67.2,208.4 67.3,208.6 67.5,205.4 67.7,206.2 67.8,207.2 68,206.4 68.1,210.3 68.3,207.7 68.4,205.7 68.6,206 68.7,207.3 68.9,211.3 69,207.1 69.2,207.6 69.3,208.3 69.5,207.3 69.7,211.3 69.8,206.5 70,208.7 70.1,207.7 70.3,208.5 70.4,205.4 70.6,210.4 70.7,207.2 70.9,207.5 71,205.8 71.2,206.2 71.3,208.4 71.5,209.1 71.7,208.7 71.8,209.5 72,208.6 72.1,207.5 72.3,208.9 72.4,208.4 72.6,207.3 72.7,208.7 72.9,209.6 73,207.9 73.2,206.9 73.3,208.7 73.5,210.7 73.7,207.1 73.8,207.3 74,207.2 74.1,209.5 74.3,204.4 74.4,208.1 74.6,209.5 74.7,206.1 74.9,210 75,208.4 75.2,206.6 75.3,207.8 75.5,204.9 75.7,206.5 75.8,210.6 76,206 76.1,210.6 76.3,207.4 76.4,209.2 76.6,207.6 76.7,203.7 76.9,206.5 77,207.8 77.2,205.6 77.3,205.2 77.5,208.1 77.7,206.4 77.8,204.7 78,206.4 78.1,209 78.3,206.7 78.4,209.1 78.6,210.1 78.7,207.6 78.9,205.6 79,205.3 79.2,207.5 79.3,209 79.5,208 79.7,208.4 79.8,206.8 80,208 80.1,206.7 80.3,207 80.4,205.4 80.6,204.9 80.7,206.7 80.9,205.7 81,205.9 81.2,208.7 81.3,207.4 81.5,212.4 81.7,209.1 81.8,206.5 82,208.9 82.1,208.1 82.3,206.4 82.4,209.4 82.6,206.3 82.7,202.4 82.9,208.9 83,206.5 83.2,210 83.3,206.5 83.5,205.6 83.7,210.2 83.8,205.8 84,207.9 84.1,210 84.3,207.8 84.4,207.4 84.6,207.7 84.7,209 84.9,206.2 85,208.6 85.2,208.5 85.3,211.5 85.5,207 85.6,206 85.8,208.8 86,206.9 86.1,208.1 86.3,207.8 86.4,209.5 86.6,206.5 86.7,207.4 86.9,203.3 87,206.1 87.2,210.1 87.3,206.4 87.5,206.4 87.6,205.6 87.8,208.6 88,207.9 88.1,205.6 88.3,208.7 88.4,208 88.6,208.8 88.7,206.5 88.9,210.5 89,208.3 89.2,207.4 89.3,206.7 89.5,207.2 89.6,209 89.8,207.1 90,209.4 90.1,208.6 90.3,209.8 90.4,209 90.6,207.5 90.7,204.4 90.9,208.1 91,208.9 91.2,207.9 91.3,208.5 91.5,206.8 91.6,207 91.8,206 92,209.9 92.1,207.9 92.3,206.8 92.4,205.4 92.6,207.4 92.7,210 92.9,208.4 93,206.4 93.2,210 93.3,210 93.5,209.2 93.6,208.9 93.8,209.5 94,208.5 94.1,208.9 94.3,206.3 94.4,210.1 94.6,208 94.7,211 94.9,204.2 95,208.8 95.2,209.2 95.3,207 95.5,208.4 95.6,208.9 95.8,208.6 96,206.7 96.1,207.4 96.3,209.3 96.4,209.7 96.6,207.8 96.7,207.7 96.9,208 97,209.3 97.2,205.9 97.3,205.4 97.5,207.8 97.6,205.8 97.8,206.6 98,207.8 98.1,208.4 98.3,205.8 98.4,208.9 98.6,204.7 98.7,208.5 98.9,205 99,205.5 99.2,208.7 99.3,206.9 99.5,206.3 99.6,206.9 99.8,208.4 100,207.5 100.1,207.6 100.3,209.4 100.4,206.4 100.6,206.8 100.7,206.8 100.9,209.5 101,209.2 101.2,209.7 101.3,207.6 101.5,207.4 101.6,209 101.8,207 102,209 102.1,208.8 102.3,206.5 102.4,207.5 102.6,207.4 102.7,210.5 102.9,211.9 103,207.4 103.2,207.6 103.3,203.8 103.5,207.9 103.6,207.6 103.8,205.8 104,208.9 104.1,205 104.3,207.2 104.4,207.8 104.6,205.5 104.7,209 104.9,209.3 105,205.3 105.2,205.3 105.3,208.6 105.5,207.5 105.6,205.6 105.8,207.1 106,207.4 106.1,207.3 106.3,208.9 106.4,208.2 106.6,210.5 106.7,209.8 106.9,208.7 107,209.3 107.2,209.7 107.3,208.7 107.5,205.5 107.6,209 107.8,207.7 107.9,210.2 108.1,207.7 108.3,208.4 108.4,208.1 108.6,210.3 108.7,207.8 108.9,207.1 109,208 109.2,206.8 109.3,207.8 109.5,207.5 109.6,207.9 109.8,210.6 109.9,206.8 110.1,207.5 110.3,207.1 110.4,208.6 110.6,205.5 110.7,206.3 110.9,207.4 111,208.3 111.2,207.3 111.3,206.6 111.5,206 111.6,208.2 111.8,209.7 111.9,207.9 112.1,207.7 112.3,208.1 112.4,205.8 112.6,206.8 112.7,206.9 112.9,207.8 113,207.2 113.2,205.3 113.3,209.1 113.5,210 113.6,206.8 113.8,207.8 113.9,207.6 114.1,208.4 114.3,204.7 114.4,209.7 114.6,206.3 114.7,209.1 114.9,207.2 115,206.4 115.2,206.8 115.3,208.4 115.5,205.5 115.6,206.3 115.8,206.1 115.9,204 116.1,208.9 116.3,207.7 116.4,206.6 116.6,208.5 116.7,205 116.9,206.4 117,209.3 117.2,208 117.3,202.7 117.5,200.8 117.6,204.5 117.8,207.8 117.9,205.2 118.1,205.5 118.3,206.8 118.4,204.2 118.6,205.9 118.7,206.7 118.9,206 119,205.7 119.2,203.9 119.3,205.5 119.5,203.8 119.6,206.3 119.8,208.1 119.9,202.4 120.1,199.8 120.3,202.3 120.4,203.2 120.6,203.8 120.7,203.3 120.9,199.8 121,199.1 121.2,201.8 121.3,197.2 121.5,199.9 121.6,196.8 121.8,197.4 121.9,196.2 122.1,195.2 122.3,194.2 122.4,190.1 122.6,191.1 122.7,189.7 122.9,189.5 123,190.5 123.2,187.9 123.3,187.4 123.5,187.8 123.6,189.2 123.8,191.9 123.9,190.4 124.1,194.7 124.3,194.5 124.4,194.8 124.6,194 124.7,197.6 124.9,199.2 125,196.1 125.2,201.7 125.3,203.1 125.5,201.6 125.6,202.4 125.8,206 125.9,204.6 126.1,201.5 126.3,203.3 126.4,203.4 126.6,203.7 126.7,200.4 126.9,205.7 127,203.7 127.2,205.2 127.3,204.9 127.5,206.7 127.6,205 127.8,204.3 127.9,206.6 128.1,208.1 128.3,205.4 128.4,208.3 128.6,206.6 128.7,205.4 128.9,208.8 129,205.1 129.2,208.1 129.3,205.7 129.5,207.3 129.6,204.7 129.8,205.4 129.9,208.5 130.1,207.1 130.2,206.9 130.4,206.2 130.6,207.7 130.7,204.7 130.9,205.2 131,206.8 131.2,205.7 131.3,206 131.5,207 131.6,206.9 131.8,206.8 131.9,209.9 132.1,208.9 132.2,209.2 132.4,207.2 132.6,206.5 132.7,205 132.9,206.8 133,204 133.2,206.4 133.3,208.6 133.5,210 133.6,209 133.8,206.1 133.9,208.2 134.1,206.2 134.2,208.8 134.4,207.3 134.6,208.9 134.7,211.6 134.9,209 135,211.3 135.2,207.8 135.3,207 135.5,209.7 135.6,210.3 135.8,206.7 135.9,207.7 136.1,205.3 136.2,207.3 136.4,209.1 136.6,207.5 136.7,206.7 136.9,205.4 137,208.2 137.2,208.9 137.3,208.6 137.5,208.1 137.6,205.7 137.8,210.5 137.9,207.6 138.1,207.5 138.2,208.9 138.4,204.3 138.6,207.6 138.7,207.5 138.9,208.3 139,209.9 139.2,208.5 139.3,204.8 139.5,207.2 139.6,208.1 139.8,208 139.9,205.7 140.1,205.1 140.2,208.7 140.4,208.3 140.6,207.8 140.7,205 140.9,210.6 141,203.2 141.2,207.2 141.3,211.1 141.5,207.6 141.6,208.2 141.8,205.9 141.9,210 142.1,205.8 142.2,208.2 142.4,208 142.6,206.2 142.7,209.2 142.9,205.6 143,206.8 143.2,207.8 143.3,207.2 143.5,208.6 143.6,209.3 143.8,207.4 143.9,207 144.1,207 144.2,207.3 144.4,209.2 144.6,207.5 144.7,208.5 144.9,207.7 145,206.5 145.2,209.3 145.3,206.2 145.5,207.9 145.6,210.2 145.8,206.2 145.9,207.8 146.1,205.4 146.2,207.1 146.4,205.5 146.6,207.3 146.7,207.1 146.9,208.1 147,210.4 147.2,208.4 147.3,209 147.5,207.8 147.6,207.5 147.8,206.6 147.9,205.1 148.1,208 148.2,210.5 148.4,208.7 148.6,207.1 148.7,210.5 148.9,207.2 149,207 149.2,206 149.3,206.4 149.5,207.5 149.6,211 149.8,207.2 149.9,205.1 150.1,204.3 150.2,202.7 150.4,198.2 150.5,200.2 150.7,202 150.9,203.5 151,206.2 151.2,204.8 151.3,204.9 151.5,209.9 151.6,209.7 151.8,205.5 151.9,208.3 152.1,208 152.2,208.8 152.4,208.3 152.5,207.2 152.7,208.3 152.9,208.2 153,207.9 153.2,205.1 153.3,203.3 153.5,206.7 153.6,205.4 153.8,208.4 153.9,209.1 154.1,208.4 154.2,207.4 154.4,208.1 154.5,209.8 154.7,206.8 154.9,209.4 155,209.1 155.2,208.4 155.3,210.3 155.5,206.9 155.6,209.5 155.8,206.5 155.9,206.8 156.1,206.3 156.2,208.7 156.4,206.5 156.5,208.1 156.7,206.2 156.9,209.7 157,210.9 157.2,208.4 157.3,210.6 157.5,208.9 157.6,211.4 157.8,208.2 157.9,205.6 158.1,210.4 158.2,207.8 158.4,206.4 158.5,207 158.7,205.5 158.9,207.8 159,206.4 159.2,210.3 159.3,209.1 159.5,205.4 159.6,205.7 159.8,207.2 159.9,205 160.1,207.9 160.2,208 160.4,206.8 160.5,207.2 160.7,208.8 160.9,210.3 161,210.4 161.2,208.1 161.3,209.4 161.5,206.9 161.6,208.7 161.8,206.6 161.9,209.2 162.1,206.1 162.2,206.6 162.4,208 162.5,208.9 162.7,205.8 162.9,207.2 163,208.3 163.2,208.4 163.3,206.8 163.5,208.2 163.6,207.7 163.8,210.2 163.9,208.9 164.1,206 164.2,204.7 164.4,208.2 164.5,209.9 164.7,208.3 164.9,209.4 165,207.3 165.2,206 165.3,209.2 165.5,208.2 165.6,209.1 165.8,206 165.9,208.4 166.1,207.1 166.2,209.3 166.4,207.2 166.5,207.2 166.7,207.2 166.9,210 167,208.1 167.2,206.9 167.3,206.5 167.5,206.5 167.6,210.3 167.8,205.3 167.9,206.8 168.1,209.1 168.2,209.9 168.4,207.9 168.5,209.3 168.7,209.3 168.9,209.6 169,208.2 169.2,210.6 169.3,208.4 169.5,210.5 169.6,206.5 169.8,209.6 169.9,206.2 170.1,205.9 170.2,208.9 170.4,206.9 170.5,208.8 170.7,206.5 170.9,210.6 171,208.2 171.2,206.5 171.3,208.5 171.5,209.5 171.6,207 171.8,209 171.9,211.3 172.1,209.5 172.2,208.2 172.4,207.3 172.5,209.1 172.7,205.9 172.8,203.6 173,207.2 173.2,206.6 173.3,210.9 173.5,208.4 173.6,206.7 173.8,206.5 173.9,209 174.1,207 174.2,207.3 174.4,208.1 174.5,208.4 174.7,208.4 174.8,208.4 175,210.2 175.2,210.8 175.3,205.7 175.5,212.2 175.6,208.5 175.8,210.1 175.9,207.1 176.1,208.8 176.2,208.6 176.4,208.4 176.5,209.6 176.7,209.2 176.8,206.8 177,208.1 177.2,209.4 177.3,209.3 177.5,207.8 177.6,207.9 177.8,208 177.9,206.6 178.1,206.3 178.2,210.6 178.4,207.7 178.5,208.4 178.7,207.2 178.8,210.2 179,210.9 179.2,208 179.3,209.1 179.5,207.2 179.6,210.9 179.8,209.7 179.9,207 180.1,210.2 180.2,208.8 180.4,208.9 180.5,208.8 180.7,207.3 180.8,207.5 181,209.2 181.2,208.2 181.3,206.9 181.5,211.3 181.6,208 181.8,207.4 181.9,207.2 182.1,209.3 182.2,209.7 182.4,208.6 182.5,209.6 182.7,206 182.8,207.7 183,207.6 183.2,208.3 183.3,209 183.5,205.2 183.6,212.9 183.8,206.9 183.9,208.7 184.1,209.4 184.2,209.5 184.4,208.6 184.5,203.9 184.7,206.6 184.8,209.3 185,206.8 185.2,206.6 185.3,204.6 185.5,209.9 185.6,208.8 185.8,206.7 185.9,207.8 186.1,207.9 186.2,206.3 186.4,207.5 186.5,208.3 186.7,208.7 186.8,209.7 187,207.9 187.2,207.1 187.3,208.4 187.5,206.8 187.6,205.8 187.8,209.3 187.9,207 188.1,207.7 188.2,208.5 188.4,205.8 188.5,208.4 188.7,208 188.8,207.1 189,207.8 189.2,206 189.3,203.7 189.5,206.4 189.6,205.3 189.8,207.7 189.9,206.6 190.1,205.2 190.2,205.7 190.4,207.3 190.5,206.6 190.7,205.1 190.8,204.9 191,203.5 191.2,203.5 191.3,204.4 191.5,203.2 191.6,203.8 191.8,201.7 191.9,201 192.1,201.1 192.2,203.1 192.4,205.9 192.5,205.9 192.7,202.9 192.8,202.2 193,205.8 193.2,205.4 193.3,202.8 193.5,206.4 193.6,205.1 193.8,206.8 193.9,205.3 194.1,206.1 194.2,205.2 194.4,203.3 194.5,204.3 194.7,203.6 194.8,205.8 195,203 195.1,202.2 195.3,205.4 195.5,206 195.6,206.4 195.8,205.8 195.9,201.9 196.1,203 196.2,203.1 196.4,203.7 196.5,200.4 196.7,203.3 196.8,203.4 197,201.3 197.1,202.5 197.3,203.7 197.5,201.6 197.6,202.7 197.8,202.2 197.9,201 198.1,200.7 198.2,199.4 198.4,201.6 198.5,199.2 198.7,198.9 198.8,201.2 199,199.4 199.1,201.5 199.3,202.9 199.5,202 199.6,202.5 199.8,204.2 199.9,204.5 200.1,201.6 200.2,202.4 200.4,206.6 200.5,205.5 200.7,202.3 200.8,203.6 201,205.7 201.1,204.5 201.3,206.7 201.5,206.3 201.6,207 201.8,204.7 201.9,207.4 202.1,209.4 202.2,205.5 202.4,208.6 202.5,208.2 202.7,207.8 202.8,206.9 203,205.4 203.1,205.8 203.3,208.3 203.5,208.6 203.6,209.1 203.8,208.7 203.9,208.7 204.1,206.8 204.2,205.8 204.4,207.9 204.5,208.3 204.7,207.8 204.8,205.5 205,207 205.1,205.7 205.3,208 205.5,206.4 205.6,207.7 205.8,208.4 205.9,208.2 206.1,210 206.2,206.4 206.4,204.9 206.5,209.4 206.7,210.1 206.8,210.2 207,208.5 207.1,208.9 207.3,208.3 207.5,206.3 207.6,207.4 207.8,208.9 207.9,207.4 208.1,210.9 208.2,206 208.4,207.6 208.5,209.8 208.7,207.4 208.8,206.6 209,206.3 209.1,207.2 209.3,210.3 209.5,208.7 209.6,208.9 209.8,207.4 209.9,209.3 210.1,208.2 210.2,206.7 210.4,207.3 210.5,208.2 210.7,209.5 210.8,207.7 211,208.4 211.1,210.5 211.3,206.5 211.5,205.8 211.6,208.8 211.8,207.9 211.9,207.1 212.1,207.5 212.2,206.5 212.4,207.6 212.5,206.3 212.7,207.7 212.8,204.8 213,205.2 213.1,206.4 213.3,205.4 213.5,206.9 213.6,205.7 213.8,204.9 213.9,205.8 214.1,204.7 214.2,203.1 214.4,203.6 214.5,204 214.7,204.4 214.8,205.1 215,206.2 215.1,205.6 215.3,207.3 215.5,206.6 215.6,204.5 215.8,207.1 215.9,206.4 216.1,204.2 216.2,205.3 216.4,206.4 216.5,205.3 216.7,206.4 216.8,205.6 217,206.1 217.1,204.8 217.3,205.9 217.4,204.9 217.6,206.5 217.8,203.3 217.9,206.2 218.1,207.5 218.2,206.7 218.4,205.9 218.5,206.8 218.7,205 218.8,205 219,205.8 219.1,206.1 219.3,207.7 219.4,205.2 219.6,207.8 219.8,204.3 219.9,205.4 220.1,206.5 220.2,208.1 220.4,205.7 220.5,203.5 220.7,207.1 220.8,206.4 221,205 221.1,205 221.3,205.5 221.4,206.5 221.6,207.3 221.8,204.3 221.9,209.4 222.1,206.2 222.2,205.7 222.4,207.1 222.5,206.3 222.7,209.3 222.8,207.5 223,205.5 223.1,205.4 223.3,205.2 223.4,205.3 223.6,206.7 223.8,204.8 223.9,207.9 224.1,205.5 224.2,205.4 224.4,206.8 224.5,202.8 224.7,204.2 224.8,206.2 225,205.4 225.1,205.3 225.3,205.8 225.4,204.4 225.6,205 225.8,203.3 225.9,202.6 226.1,206.9 226.2,203.8 226.4,204.1 226.5,207 226.7,206.5 226.8,204.3 227,204.3 227.1,204.9 227.3,203.6 227.4,205.7 227.6,205.1 227.8,205 227.9,205.8 228.1,205.7 228.2,207.2 228.4,206.6 228.5,202.1 228.7,205.5 228.8,202.5 229,201.9 229.1,204.6 229.3,202.4 229.4,202.6 229.6,204.2 229.8,201.6 229.9,200.9 230.1,202.3 230.2,203.3 230.4,202.2 230.5,199.2 230.7,200.4 230.8,201.1 231,204 231.1,202.7 231.3,202.9 231.4,203.6 231.6,201.9 231.8,203.3 231.9,203.7 232.1,202.1 232.2,203.8 232.4,205 232.5,203.1 232.7,206 232.8,206.2 233,206.8 233.1,204.6 233.3,206 233.4,208 233.6,207.2 233.8,205.2 233.9,206.7 234.1,208.4 234.2,206.5 234.4,207.2 234.5,210.2 234.7,206.8 234.8,206.7 235,205.6 235.1,206.1 235.3,209 235.4,206.9 235.6,205.6 235.8,205.9 235.9,207.3 236.1,208.3 236.2,206.3 236.4,208.3 236.5,206.8 236.7,208 236.8,208.2 237,208.4 237.1,207 237.3,207.4 237.4,208.4 237.6,206 237.7,208 237.9,208.5 238.1,209.2 238.2,207.8 238.4,207.6 238.5,208.1 238.7,207 238.8,207.7 239,208.5 239.1,208.4 239.3,206.7 239.4,207.6 239.6,205.3 239.7,209.2 239.9,207.4 240.1,208.5 240.2,206.7 240.4,208.1 240.5,208.8 240.7,209.5 240.8,206.4 241,209.4 241.1,208.1 241.3,207.3 241.4,208.9 241.6,207.9 241.7,207.9 241.9,207.4 242.1,208.6 242.2,208.4 242.4,208.1 242.5,207.1 242.7,207.7 242.8,208.9 243,210.1 243.1,208.4 243.3,210.3 243.4,208.4 243.6,207 243.7,209.3 243.9,207.2 244.1,209 244.2,209.9 244.4,208 244.5,208.3 244.7,211.7 244.8,208.8 245,208.8 245.1,209.5 245.3,208.4 245.4,208.4 245.6,209 245.7,205.4 245.9,210.4 246.1,207.1 246.2,207.1 246.4,209.2 246.5,208.5 246.7,206.9 246.8,208.8 247,207 247.1,207.6 247.3,206.5 247.4,207.4 247.6,209 247.7,208.7 247.9,208.9 248.1,209.7 248.2,208.5 248.4,207.7 248.5,208.2 248.7,210.7 248.8,208.6 249,208.9 249.1,208.4 249.3,208.9 249.4,209.1 249.6,208.5 249.7,208.3 249.9,207.5 250.1,207.4 250.2,209.1 250.4,209.5 250.5,209.7 250.7,208.6 250.8,207.5 251,209.4 251.1,209.3 251.3,206.6 251.4,209.6 251.6,209.3 251.7,210.7 251.9,207.1 252.1,206.9 252.2,209.6 252.4,206.2 252.5,207.6 252.7,207.1 252.8,207.2 253,206.1 253.1,208.3 253.3,209.8 253.4,209.1 253.6,209.1 253.7,208.1 253.9,210.4 254.1,209.2 254.2,209.9 254.4,206.6 254.5,209 254.7,207.1 254.8,209 255,208.8 255.1,207.1 255.3,208.8 255.4,210.1 255.6,209.2 255.7,209.3 255.9,207.5 256.1,207.7 256.2,207.2 256.4,208.8 256.5,210.1 256.7,209.1 256.8,208.6 257,207.2 257.1,209.2 257.3,208.3 257.4,206.2 257.6,206.4 257.7,208.2 257.9,207.5 258.1,210.7 258.2,208.6 258.4,207.3 258.5,208 258.7,210.6 258.8,207.4 259,209.6 259.1,209.2 259.3,210.5 259.4,209.3 259.6,208.1 259.7,209.3 259.9,208.7 260,209.9 260.2,208.5 260.4,211.1 260.5,208.5 260.7,209.2 260.8,207.8 261,208.8 261.1,208.7 261.3,208.8 261.4,209.8 261.6,208 261.7,207.6 261.9,210 262,208.3 262.2,207.8 262.4,210.1 262.5,209.6 262.7,205.3 262.8,208.2 263,209.6 263.1,209.7 263.3,208 263.4,210.6 263.6,207.7 263.7,208.4 263.9,208.8 264,208.7 264.2,209.7 264.4,209.9 264.5,208.6 264.7,210.4 264.8,207.8 265,208.4 265.1,210.8 265.3,208.8 265.4,210 265.6,208.1 265.7,208.3 265.9,208.5 266,208.9 266.2,208.3 266.4,208.7 266.5,209.5 266.7,210.2 266.8,208.8 267,209.5 267.1,209.8 267.3,207.3 267.4,206.7 267.6,210.7 267.7,210.3 267.9,208.8 268,209.1 268.2,207.5 268.4,207 268.5,209.1 268.7,206.9 268.8,209.8 269,207.9 269.1,209.1 269.3,211.1 269.4,211 269.6,208.4 269.7,210 269.9,207.4 270,208 270.2,209.2 270.4,210.4 270.5,208 270.7,209.4 270.8,208.8 271,207.1 271.1,208.5 271.3,210.6 271.4,208.6 271.6,209.3 271.7,209.7 271.9,207.8 272,210.2 272.2,210.6 272.4,210.7 272.5,210.3 272.7,208.1 272.8,208 273,207.7 273.1,207.6 273.3,207.7 273.4,209.9 273.6,210.5 273.7,207.9 273.9,209.7 274,207.2 274.2,208.3 274.4,207.5 274.5,206.7 274.7,208.8 274.8,208.8 275,208.2 275.1,208.1 275.3,207.5 275.4,208.5 275.6,208 275.7,209 275.9,207.2 276,209 276.2,209.3 276.4,210.2 276.5,210 276.7,208.9 276.8,207.9 277,206.5 277.1,208.7 277.3,210.4 277.4,210.7 277.6,205.6 277.7,207.8 277.9,208.3 278,207.4 278.2,208.9 278.4,208.8 278.5,208.1 278.7,208.7 278.8,206.8 279,207.5 279.1,207.6 279.3,209.8 279.4,206.7 279.6,208.5 279.7,209.7 279.9,208.7 280,209.7 280.2,207.9 280.4,209.3 280.5,209.8 280.7,211.4 280.8,209.6 281,210.5 281.1,208.7 281.3,208.8 281.4,210.6 281.6,209.4 281.7,210.5 281.9,209.6 282,211.3 282.2,211.6 282.3,207.7 282.5,211 282.7,209.3 282.8,209.3 283,208.6 283.1,209.6 283.3,207.4 283.4,207.9 283.6,207.8 283.7,209.1 283.9,209.9 284,209.7 284.2,209.2 284.3,208 284.5,206.6 284.7,209.3 284.8,208.9 285,209.2 285.1,210.5 285.3,208.6 285.4,208.5 285.6,206 285.7,209.5 285.9,208.7 286,207.9 286.2,209.2 286.3,207.5 286.5,208.1 286.7,211.2 286.8,209.7 287,209.9 287.1,209.7 287.3,209.6 287.4,209 287.6,211.6 287.7,208.7 287.9,209.7 288,208.5 288.2,208.4 288.3,205.8 288.5,206.5 288.7,210.7 288.8,210.6 289,208.3 289.1,208.7 289.3,209.5 289.4,207.6 289.6,210.9 289.7,207.5 289.9,207.9 290,205.4 290.2,210.6 290.3,208.9 290.5,210.7 290.7,207.6 290.8,209.2 291,208.9 291.1,209 291.3,211.3 291.4,211.5 291.6,210.5 291.7,208.3 291.9,209.9 292,210.4 292.2,209.5 292.3,209.5 292.5,209.4 292.7,207.7 292.8,209.1 293,210.7 293.1,207.6 293.3,208.9 293.4,209.8 293.6,207.1 293.7,208.6 293.9,206.7 294,208.1 294.2,207.1 294.3,207.7 294.5,208.2 294.7,208.5 294.8,208.5 295,205.9 295.1,210.7 295.3,208.5 295.4,207.5 295.6,208 295.7,209.2 295.9,207.6 296,208.3 296.2,208.2 296.3,209.4 296.5,207.9 296.7,209.3 296.8,209.2 297,208.6 297.1,210.3 297.3,208.8 297.4,207.4 297.6,209.2 297.7,208.9 297.9,208.8 298,209.1 298.2,211.6 298.3,209.1 298.5,209.4 298.7,208.5 298.8,210.4 299,208.7 299.1,207.8 299.3,207.3 299.4,209.4 299.6,209.7 299.7,206.9 299.9,207.9 300,209.6 300.2,210 300.3,207.2 300.5,208.3 300.7,209.8 300.8,208.2 301,208.3 301.1,208.2 301.3,207.2 301.4,208.9 301.6,209.2 301.7,207.1 301.9,208.9 302,210.1 302.2,209.1 302.3,210 302.5,208.2 302.6,210.5 302.8,207.9 303,211.1 303.1,208.3 303.3,208 303.4,207.8 303.6,208.3 303.7,208.2 303.9,208 304,208.4 304.2,209.6 304.3,209.9 304.5,208.4 304.6,210.3 304.8,207.6 305,207.6 305.1,207.5 305.3,209.5 305.4,207 305.6,207.2 305.7,210.4 305.9,210.9 306,210.4 306.2,207.1 306.3,208.8 306.5,209.8 306.6,208.9 306.8,206.9 307,208.4 307.1,206.8 307.3,207.4 307.4,211.4 307.6,209.6 307.7,207.1 307.9,207.1 308,209.4 308.2,208.1 308.3,209.5 308.5,208.1 308.6,208.6 308.8,209.1 309,207.6 309.1,206.6 309.3,207.4 309.4,208 309.6,208.6 309.7,208.8 309.9,208.8 310,209.5 310.2,207.8 310.3,210.5 310.5,211.2 310.6,209.3 310.8,209.1 311,210.3 311.1,209.6 311.3,209.1 311.4,208.6 311.6,208 311.7,207.5 311.9,209.6 312,210.3 312.2,207.6 312.3,208.8 312.5,209.1 312.6,208.3 312.8,208 313,208.4 313.1,206.5 313.3,208.8 313.4,208.5 313.6,211.4 313.7,210 313.9,208.4 314,208.8 314.2,210.9 314.3,210.8 314.5,209.1 314.6,208.7 314.8,207.2 315,208.5 315.1,208.7 315.3,208 315.4,210.9 315.6,206.6 315.7,208.7 315.9,209.3 316,209.4 316.2,210.9 316.3,207.2 316.5,208 316.6,209 316.8,209 317,208.4 317.1,208 317.3,210.1 317.4,207.6 317.6,208.2 317.7,210.6 317.9,210.9 318,209.9 318.2,207.9 318.3,207.9 318.5,207.8 318.6,207.5 318.8,208.4 319,210.4 319.1,209.1 319.3,208 319.4,208 319.6,207.5 319.7,210.3 319.9,206.5 320,209.2 320.2,207.2 320.3,207.6 320.5,207.1 320.6,210 320.8,208.8 321,212.1 321.1,207.7 321.3,207.6 321.4,209.6 321.6,209.5 321.7,208.5 321.9,206.5 322,210.6 322.2,209.5 322.3,209.3 322.5,208.2 322.6,209.6 322.8,208.2 323,208.9 323.1,208.7 323.3,210.3 323.4,208.3 323.6,208.5 323.7,210.2 323.9,209.1 324,208.8 324.2,208.6 324.3,210 324.5,208.1 324.6,209.4 324.8,211.2 324.9,209.3 325.1,208 325.3,207.5 325.4,209 325.6,207.4 325.7,207 325.9,208 326,207.6 326.2,209.9 326.3,207.2 326.5,210.7 326.6,208 326.8,209 326.9,209.7 327.1,209.1 327.3,209.7 327.4,207.7 327.6,206.2 327.7,208.6 327.9,206.9 328,208.2 328.2,210 328.3,208.6 328.5,208.2 328.6,207.5 328.8,208.5 328.9,208.7 329.1,207 329.3,209.2 329.4,207.6 329.6,209.1 329.7,208.3 329.9,210 330,209.9 330.2,208.9 330.3,208.7 330.5,209.4 330.6,210.5 330.8,210.1 330.9,209.1 331.1,209.3 331.3,210.7 331.4,207 331.6,209.5 331.7,207.9 331.9,210.5 332,208.3 332.2,208.8 332.3,207.7 332.5,208.9 332.6,209.8 332.8,210.9 332.9,207.5 333.1,208.4 333.3,213.5 333.4,210 333.6,208.9 333.7,209.6 333.9,205.9 334,210.8 334.2,209.1 334.3,207.3 334.5,210.3 334.6,208.2 334.8,207.8 334.9,209.6 335.1,209.4 335.3,208.4 335.4,208.9 335.6,207.4 335.7,207.3 335.9,210 336,210.5 336.2,209.5 336.3,209.4 336.5,208.5 336.6,208.8 336.8,207.9 336.9,211 337.1,208.3 337.3,209.5 337.4,209 337.6,207.4 337.7,211.2 337.9,208.6 338,208.1 338.2,209.1 338.3,208 338.5,209 338.6,207.9 338.8,209.7 338.9,209.1 339.1,207.4 339.3,210.2 339.4,209.2 339.6,207.7 339.7,209.4 339.9,209.5 340,211.2 340.2,208 340.3,210 340.5,208.9 340.6,209.7 340.8,208.7 340.9,209 341.1,209.6 341.3,207.6 341.4,206.6 341.6,209 341.7,208.5 341.9,209.1 342,209.8 342.2,208.8 342.3,210.4 342.5,209 342.6,209.2 342.8,210 342.9,209.7 343.1,208.9 343.3,209.2 343.4,208.2 343.6,208.3 343.7,209.2 343.9,210 344,208.6 344.2,210 344.3,211.3 344.5,211.5 344.6,209.1 344.8,210.3 344.9,209.8 345.1,210 345.3,210 345.4,209.7 345.6,210 345.7,209.3 345.9,208.8 346,209.4 346.2,209.7 346.3,210.5 346.5,209.5 346.6,210 346.8,210.7 346.9,208 347.1,208.8 347.2,209.7 347.4,209.1 347.6,207.9 347.7,210.2 347.9,209 348,208 348.2,211.3 348.3,207.6 348.5,209.1 348.6,208.3 348.8,209.2 348.9,209.8 349.1,208.2 349.2,209 349.4,209 349.6,208 349.7,210.4 349.9,209.3 350,208.8 350.2,208.3 350.3,208.7 350.5,209.3 350.6,208.6 350.8,210.5 350.9,206.2 351.1,206.7 351.2,208.8 351.4,207 351.6,209 351.7,208.4 351.9,209.8 352,209.6 352.2,210.6 352.3,210.2 352.5,210.5 352.6,209.7 352.8,210.3 352.9,209.7 353.1,208.4 353.2,207.7 353.4,207.7 353.6,209.7 353.7,206.4 353.9,209.3 354,208.3 354.2,210 354.3,209.4 354.5,208.3 354.6,209.1 354.8,206.5 354.9,209.4 355.1,209.7 355.2,207 355.4,210.1 355.6,209 355.7,209.3 355.9,207.5 356,209.8 356.2,209.8 356.3,209.1 356.5,208 356.6,210 356.8,210.6 356.9,209.6 357.1,210.3 357.2,208.5 357.4,209.3 357.6,209.6 357.7,209.3 357.9,212.4 358,209.6 358.2,208.5 358.3,210.1 358.5,207.9 358.6,209.6 358.8,210.1 358.9,208.6 359.1,208.8 359.2,208.1 359.4,209.3 359.6,208.4 359.7,211.2 359.9,209.9 360,209 360.2,207.6 360.3,211.5 360.5,210.7 360.6,209.8 360.8,209.4 360.9,209.4 361.1,208.7 361.2,211.4 361.4,209.5 361.6,207.6 361.7,208.5 361.9,206.3 362,210 362.2,210.1 362.3,211.2 362.5,211.6 362.6,208.4 362.8,209.7 362.9,210.4 363.1,210.1 363.2,208.7 363.4,210.1 363.6,209.8 363.7,210.8 363.9,209.2 364,209 364.2,208.7 364.3,208.8 364.5,208.4 364.6,208.8 364.8,209.8 364.9,209.7 365.1,210.7 365.2,210.5 365.4,209.9 365.6,207.9 365.7,209.9 365.9,210.5 366,207.8 366.2,208 366.3,208.1 366.5,208 366.6,208.9 366.8,208.2 366.9,209.6 367.1,207.8 367.2,209.1 367.4,208.6 367.5,208.1 367.7,210.4 367.9,209.2 368,209.8 368.2,208.8 368.3,210 368.5,209.9 368.6,209 368.8,207.2 368.9,210.1 369.1,210 369.2,209.4 369.4,209.5 369.5,209.4 369.7,209.4 369.9,208.1 370,209.2 370.2,209.6 370.3,208.5 370.5,208.1 370.6,211.3 370.8,209.9 370.9,208.9 371.1,208.7 371.2,206.3 371.4,207.6 371.5,208.9 371.7,210.7 371.9,206.9 372,208.4 372.2,211.4 372.3,210 372.5,209.7 372.6,210.6 372.8,209.1 372.9,209 373.1,210 373.2,210.2 373.4,208 373.5,210.9 373.7,207.3 373.9,208.5 374,212.7 374.2,208.7 374.3,210 374.5,208.1 374.6,208.9 374.8,208.4 374.9,208.8 375.1,210 375.2,211.2 375.4,210.2 375.5,211 375.7,208.7 375.9,210.9 376,209.9 376.2,210.8 376.3,208.8 376.5,209 376.6,210.8 376.8,209.9 376.9,209.4 377.1,208.5 377.2,209.1 377.4,209.8 377.5,210 377.7,208.6 377.9,208.9 378,209.7 378.2,208 378.3,210.3 378.5,209.2 378.6,209.1 378.8,206.5 378.9,207.5 379.1,208.1 379.2,208.6 379.4,208 379.5,209.6 379.7,209.4 379.9,208.9 380,206.9 380.2,210.7 380.3,208.9 380.5,209.9 380.6,208.5 380.8,209.2 380.9,210 381.1,209.5 381.2,210.3 381.4,209 381.5,211.4 381.7,207.1 381.9,208.6 382,210.3 382.2,208.9 382.3,208.7 382.5,207.2 382.6,210.5 382.8,207.1 382.9,209.8 383.1,209.4 383.2,210.2 383.4,210.8 383.5,208.4 383.7,208.3 383.9,208.9 384,207.3 384.2,210.1 384.3,208.8 384.5,209.4 384.6,208 384.8,209.2 384.9,208.5 385.1,209.1 385.2,208 385.4,210.3 385.5,208.5 385.7,206.4 385.9,209.9 386,208.9 386.2,208.2 386.3,211.9 386.5,209.1 386.6,207.7 386.8,208.5 386.9,209.6 387.1,208.9 387.2,210.6 387.4,210.4 387.5,208.3 387.7,209.2 387.9,209.9 388,208.7 388.2,208.7 388.3,210.2 388.5,209.7 388.6,207.7 388.8,208.6 388.9,208.7 389.1,209.1 389.2,208.4 389.4,210.7 389.5,208.1 389.7,208 389.8,209.4 390,206.7 390.2,208.1 390.3,209.9 390.5,207.8 390.6,208.3 390.8,210.4 390.9,209.7 391.1,209.3 391.2,209.5 391.4,208.5 391.5,209.6 391.7,209 391.8,212 392,209.8 392.2,208.9 392.3,209.2 392.5,209.3 392.6,207.7 392.8,208.3 392.9,210.9 393.1,207.7 393.2,208.6 393.4,210.4 393.5,210.9 393.7,208.1 393.8,210.8 394,208.8 394.2,211.1 394.3,209.8 394.5,208.9 394.6,210 394.8,209.9 394.9,208.4 395.1,211.6 395.2,208.9 395.4,210.5 395.5,208.7 395.7,207.3 395.8,208 396,209.2 396.2,210 396.3,211.2 396.5,209.4 396.6,209 396.8,207.9 396.9,209.2 397.1,209.6 397.2,206.9 397.4,210.7 397.5,210.5 397.7,211.7 397.8,208.3 398,209.3 398.2,209.3 398.3,207.8 398.5,208.3 398.6,208.2 398.8,209.8 398.9,209.7 399.1,210.7 399.2,208.8 399.4,207.8 399.5,209.8 399.7,209.7 399.8,210 400,210.6" fill="none" stroke="#007f00" stroke-width="0.85" stroke-linejoin="round" />
<path d="M46.28 301.1V212.2 M124.65 301.1V256.8 M186.91 301.1V269.3 M187.64 301.1V269.3 M192.44 301.1V268.9 M198.9 301.1V265.1 M204.62 301.1V271 M212.68 301.1V270.7 M213.6 301.1V270.7 M215.45 301.1V266.1 M231.44 301.1V264.7 M256.05 301.1V270.1 M261.59 301.1V270.7 M264.05 301.1V269.3 M282.87 301.1V266.6 M288.29 301.1V271 M315.72 301.1V270.1 M325.26 301.1V270.7 M328.03 301.1V270.1 M348.94 301.1V270.7 M358.78 301.1V270.1 M364.32 301.1V269.6 M372.32 301.1V270.1 M373.06 301.1V270.1 M376.62 301.1V271 M382.16 301.1V271 M387.39 301.1V269.6" stroke="#555" stroke-width="0.8" fill="none"/>
<text x="48.7" y="31" font-size="12.8" text-anchor="middle" fill="#111" >001</text>
<text x="125.5" y="62" font-size="12.8" text-anchor="middle" fill="#111" >002</text>
<text x="188.9" y="73.7" font-size="13.2" text-anchor="start" fill="#111" >-111</text>
<text x="217.8" y="73.7" font-size="13.2" text-anchor="start" fill="#111" >-112</text>
<text x="300.8" y="259.6" font-size="15.35" text-anchor="start" fill="#111" >01-080-1098</text>
<text x="393.3" y="109.2" font-size="12.7" fill="#ff7f00" text-anchor="end"><tspan font-family="'Liberation Serif', serif">&#948;</tspan>-MnO<tspan font-size="8.13" dy="3.81">2</tspan><tspan dy="-3.81">/CNTs-5</tspan></text>
<text x="393.3" y="168.3" font-size="12.7" fill="#0000ff" text-anchor="end"><tspan font-family="'Liberation Serif', serif">&#948;</tspan>-MnO<tspan font-size="8.13" dy="3.81">2</tspan><tspan dy="-3.81">/CNTs-3</tspan></text>
<text x="393" y="225.2" font-size="12.7" fill="#007f00" text-anchor="end"><tspan font-family="'Liberation Serif', serif">&#948;</tspan>-MnO<tspan font-size="8.13" dy="3.81">2</tspan><tspan dy="-3.81">/CNTs-1</tspan></text>
<text x="392.9" y="23.9" font-size="20.5" text-anchor="end" fill="#111" >(a)</text>
<text x="215.2" y="346.2" font-size="15.4" text-anchor="middle" fill="#111"><tspan font-style="italic">2</tspan><tspan font-family="'Liberation Serif', serif" font-style="italic">&#952;</tspan><tspan font-style="italic"> (</tspan>degree, CuK<tspan font-family="'Liberation Serif', serif" font-style="italic">&#945;</tspan><tspan font-style="italic">)</tspan></text>
<text transform="translate(14.4 153) rotate(-90)" font-size="15.4" text-anchor="middle" fill="#111"><tspan font-style="italic">Intensity</tspan> (a.u.)</text>
<rect x="456.0" y="3.4" width="216.3" height="296.6" fill="none" stroke="#1e1e1e" stroke-width="1.3"/>
<path d="M456 300v5.5 M528.1 300v5.5 M600.2 300v5.5 M672.3 300v5.5 M492.05 300v3.0 M564.15 300v3.0 M636.25 300v3.0" stroke="#1e1e1e" stroke-width="1.3" fill="none"/>
<path d="M456 3.4h-5.5 M456 69.1h-5.5 M456 134.9h-5.5 M456 200.7h-5.5 M456 266.5h-5.5 M456 36.2h-3.0 M456 102h-3.0 M456 167.8h-3.0 M456 233.6h-3.0 M456 299.4h-3.0" stroke="#1e1e1e" stroke-width="1.3" fill="none"/>
<text x="456" y="319.8" font-size="12.7" text-anchor="middle" fill="#111" >200</text>
<text x="528.1" y="319.8" font-size="12.7" text-anchor="middle" fill="#111" >400</text>
<text x="600.2" y="319.8" font-size="12.7" text-anchor="middle" fill="#111" >600</text>
<text x="672.3" y="319.8" font-size="12.7" text-anchor="middle" fill="#111" >800</text>
<polyline points="456,127.3 456.7,130.3 457.4,129.8 458.2,128.1 458.9,128.3 459.6,127.1 460.3,128.5 461,127.4 461.8,128.7 462.5,125.4 463.2,131 463.9,129 464.7,130 465.4,129.9 466.1,128.9 466.8,130 467.5,130.5 468.3,128.3 469,128.9 469.7,130.3 470.4,128.1 471.1,127.4 471.9,130.5 472.6,129.4 473.3,127.2 474,128.6 474.7,128 475.5,126.9 476.2,127.3 476.9,130 477.6,131.7 478.4,130.3 479.1,129.8 479.8,130.7 480.5,131 481.2,129.8 482,131 482.7,131.6 483.4,130.3 484.1,129.2 484.8,130.6 485.6,130.4 486.3,130.9 487,127.6 487.7,127.6 488.4,128 489.2,127.2 489.9,129.7 490.6,131.4 491.3,129.6 492.1,132.3 492.8,130.9 493.5,130.2 494.2,129.9 494.9,131 495.7,129.3 496.4,132.3 497.1,131.7 497.8,127.4 498.5,129.7 499.3,128.5 500,130.4 500.7,129.4 501.4,129.7 502.1,129.7 502.9,127.9 503.6,129.6 504.3,128.7 505,130 505.7,128.4 506.5,130.7 507.2,129.9 507.9,129 508.6,130.1 509.4,130.7 510.1,131.1 510.8,127 511.5,130 512.2,129.8 513,129.4 513.7,127.4 514.4,130.1 515.1,126.5 515.8,128.8 516.6,130.1 517.3,126.1 518,127.5 518.7,126.1 519.4,128.3 520.2,129.6 520.9,130.5 521.6,125.4 522.3,126.5 523.1,128.7 523.8,129.7 524.5,128.8 525.2,127.2 525.9,128.7 526.7,128.3 527.4,127.2 528.1,126.5 528.8,127.7 529.5,127.2 530.3,126.8 531,126.3 531.7,125.2 532.4,126.3 533.1,128.3 533.9,126.9 534.6,125.3 535.3,129.2 536,128.4 536.8,129.9 537.5,126.7 538.2,125.5 538.9,124.3 539.6,127.8 540.4,129.1 541.1,124.6 541.8,124 542.5,125.6 543.2,123.7 544,123.9 544.7,124.2 545.4,124.7 546.1,125.6 546.8,124.6 547.6,126.1 548.3,123.7 549,125.5 549.7,121.5 550.5,121.3 551.2,124.2 551.9,121.1 552.6,122.9 553.3,122.8 554.1,123.2 554.8,122.6 555.5,121.6 556.2,119.5 556.9,118.8 557.7,118 558.4,118.2 559.1,117.1 559.8,117.4 560.5,118.5 561.3,118.5 562,116.8 562.7,114 563.4,115.3 564.1,115.2 564.9,116.4 565.6,115.9 566.3,114.5 567,114.9 567.8,119.1 568.5,117.3 569.2,119.5 569.9,120.4 570.6,118.1 571.4,121.4 572.1,122.5 572.8,123.6 573.5,122.6 574.2,122.2 575,122.5 575.7,120 576.4,122.5 577.1,121.4 577.8,121.3 578.6,120.6 579.3,121.8 580,121.3 580.7,120.3 581.5,119.4 582.2,117.2 582.9,115.2 583.6,114.3 584.3,111 585.1,110 585.8,106.1 586.5,101.7 587.2,94 587.9,88.7 588.7,75.3 589.4,69.5 590.1,71.4 590.8,73.1 591.5,78.5 592.3,83.6 593,87.5 593.7,92.9 594.4,99.8 595.2,101.3 595.9,101.8 596.6,105.4 597.3,104.9 598,109.4 598.8,105.4 599.5,107 600.2,106.1 600.9,102.9 601.6,104.8 602.4,105.8 603.1,104.8 603.8,104.7 604.5,105.3 605.2,103.9 606,104.2 606.7,102.9 607.4,103.1 608.1,100.5 608.9,101.7 609.6,99.5 610.3,97.4 611,98.5 611.7,98.9 612.5,96.3 613.2,92.5 613.9,91.8 614.6,89 615.3,88.3 616.1,88.1 616.8,83.4 617.5,85.6 618.2,83.7 618.9,84.1 619.7,84.5 620.4,85.3 621.1,87 621.8,90.8 622.6,92.4 623.3,91 624,93.3 624.7,92.7 625.4,92.1 626.2,96.4 626.9,98.6 627.6,98.3 628.3,100.3 629,102.1 629.8,101.1 630.5,102.3 631.2,106.2 631.9,108.2 632.6,110.3 633.4,113.8 634.1,116 634.8,114.7 635.5,117 636.2,118.5 637,119.5 637.7,120.3 638.4,119.1 639.1,121.1 639.9,123.2 640.6,122.4 641.3,121.3 642,123.6 642.7,124.2 643.5,123.1 644.2,122.4 644.9,125.1 645.6,121.9 646.3,124.4 647.1,123.8 647.8,122.8 648.5,126.4 649.2,126.1 649.9,125.2 650.7,127.8 651.4,127.5 652.1,125.9 652.8,126.9 653.6,128.4 654.3,128.5 655,128.3 655.7,128.4 656.4,129.6 657.2,129.5 657.9,130.6 658.6,130.1 659.3,130.6 660,130.7 660.8,129.7 661.5,129.6 662.2,132.3 662.9,130.7 663.6,130 664.4,131 665.1,129.2 665.8,131 666.5,130.5 667.3,132.2 668,131 668.7,134.9 669.4,131.8 670.1,130.9 670.9,133.1 671.6,132.6 672.3,133.5" fill="none" stroke="#ff7f00" stroke-width="1.1" stroke-linejoin="round" />
<polyline points="456,195.4 456.7,198 457.4,197.6 458.2,198.3 458.9,200.3 459.6,194.2 460.3,195.9 461,194.5 461.8,197.4 462.5,200 463.2,197.5 463.9,198 464.7,192.9 465.4,196.6 466.1,194 466.8,200.4 467.5,198.8 468.3,199.6 469,198.2 469.7,199.3 470.4,199.4 471.1,197.3 471.9,197.1 472.6,198.1 473.3,196.4 474,196.7 474.7,197.2 475.5,196.4 476.2,200.3 476.9,195.2 477.6,200.5 478.4,197.6 479.1,197.3 479.8,195.8 480.5,198.1 481.2,197.2 482,198.1 482.7,196.9 483.4,198 484.1,201.7 484.8,198.9 485.6,197.3 486.3,200.8 487,199.1 487.7,200.5 488.4,200.1 489.2,197.8 489.9,194.7 490.6,198 491.3,200 492.1,198.4 492.8,199.6 493.5,201.1 494.2,198 494.9,201.6 495.7,203 496.4,201.9 497.1,202.5 497.8,201.4 498.5,204.1 499.3,200 500,198.8 500.7,200.1 501.4,196.8 502.1,195.3 502.9,197.4 503.6,200.7 504.3,200.8 505,197.3 505.7,196.5 506.5,199.7 507.2,200.3 507.9,200.4 508.6,202 509.4,203.1 510.1,200.6 510.8,201.2 511.5,197.5 512.2,197 513,199.7 513.7,200.4 514.4,200.5 515.1,200.3 515.8,201.3 516.6,201.2 517.3,195.7 518,197.4 518.7,199.1 519.4,199.2 520.2,194.5 520.9,199.9 521.6,196.8 522.3,197.5 523.1,198.5 523.8,199.1 524.5,194.8 525.2,199.2 525.9,197.5 526.7,195.7 527.4,196.3 528.1,192.7 528.8,196.1 529.5,197.8 530.3,195.8 531,195.9 531.7,195.5 532.4,195.5 533.1,197.2 533.9,195 534.6,194.8 535.3,196.3 536,199.4 536.8,194.5 537.5,195.9 538.2,192.3 538.9,197.8 539.6,196.8 540.4,197.9 541.1,194.7 541.8,192.9 542.5,196.4 543.2,196 544,192.4 544.7,190.8 545.4,194.3 546.1,193.2 546.8,198.6 547.6,192.4 548.3,192.8 549,192.9 549.7,190 550.5,191 551.2,195.8 551.9,192.6 552.6,190.9 553.3,189.3 554.1,192.3 554.8,192.3 555.5,191.3 556.2,189.5 556.9,191 557.7,190 558.4,187.4 559.1,189.3 559.8,182.3 560.5,182.9 561.3,183.8 562,183.1 562.7,180.5 563.4,182.7 564.1,184.1 564.9,183 565.6,182.7 566.3,184.1 567,183.1 567.8,180.6 568.5,183.4 569.2,187.8 569.9,184.3 570.6,187.6 571.4,187.5 572.1,186.8 572.8,187.2 573.5,190.5 574.2,191.4 575,192.3 575.7,189.8 576.4,192.3 577.1,194 577.8,194.6 578.6,193.3 579.3,192.7 580,192.3 580.7,191 581.5,186.6 582.2,187.2 582.9,183.2 583.6,176.9 584.3,175 585.1,178.7 585.8,168.1 586.5,162 587.2,160.6 587.9,158.6 588.7,149.1 589.4,143.5 590.1,135.4 590.8,131.4 591.5,134.4 592.3,137.1 593,139.2 593.7,144.5 594.4,149.5 595.2,152.1 595.9,159.6 596.6,165 597.3,166.1 598,172.6 598.8,171.2 599.5,170.8 600.2,168.5 600.9,168.7 601.6,173.6 602.4,166.8 603.1,169 603.8,166.5 604.5,167.8 605.2,167.4 606,163.9 606.7,164 607.4,163.5 608.1,162.6 608.9,161.6 609.6,160 610.3,160.8 611,160.4 611.7,156.6 612.5,151.4 613.2,151.5 613.9,149.1 614.6,146.8 615.3,146.9 616.1,139.5 616.8,136.9 617.5,134.4 618.2,135.6 618.9,136.1 619.7,142.7 620.4,141.8 621.1,141.8 621.8,149.3 622.6,144.5 623.3,151.2 624,154.1 624.7,155.3 625.4,156.4 626.2,159.1 626.9,162 627.6,166.8 628.3,163 629,168.9 629.8,172.3 630.5,173.7 631.2,174.1 631.9,180.4 632.6,181.3 633.4,185.5 634.1,187.4 634.8,185.4 635.5,181.9 636.2,186.2 637,185.3 637.7,188.9 638.4,192.2 639.1,190.2 639.9,194.7 640.6,193.7 641.3,192.6 642,190.2 642.7,193.2 643.5,191.3 644.2,196.1 644.9,194.3 645.6,197 646.3,195.2 647.1,191.1 647.8,196.9 648.5,197.6 649.2,199.6 649.9,194.7 650.7,194.8 651.4,197.2 652.1,194.9 652.8,195 653.6,196 654.3,203.3 655,197.1 655.7,196.1 656.4,197.7 657.2,199.1 657.9,201.7 658.6,201.2 659.3,201 660,199.4 660.8,199.9 661.5,198.6 662.2,196.6 662.9,203.9 663.6,199.1 664.4,202.1 665.1,200.2 665.8,200.7 666.5,200.9 667.3,198.7 668,201.7 668.7,203 669.4,203.7 670.1,202.6 670.9,203.4 671.6,202.5 672.3,202.2" fill="none" stroke="#0000ff" stroke-width="1.1" stroke-linejoin="round" />
<polyline points="456,264.2 456.7,254.8 457.4,263.1 458.2,261.3 458.9,263.9 459.6,261.9 460.3,265 461,262 461.8,260.9 462.5,263.6 463.2,263.7 463.9,262.1 464.7,262.8 465.4,264.2 466.1,263.8 466.8,261.8 467.5,261.4 468.3,258.8 469,265.8 469.7,262 470.4,265.9 471.1,264 471.9,267.3 472.6,265.6 473.3,263.1 474,265.6 474.7,261 475.5,265.4 476.2,259.6 476.9,262.8 477.6,263 478.4,261.4 479.1,259.8 479.8,258.8 480.5,260 481.2,262.4 482,261.8 482.7,258.9 483.4,256.3 484.1,259.7 484.8,255 485.6,256.7 486.3,256.6 487,259.6 487.7,258.8 488.4,259.3 489.2,258.7 489.9,256.8 490.6,258.8 491.3,260.6 492.1,257.8 492.8,259.7 493.5,258.9 494.2,261.7 494.9,261.3 495.7,262.1 496.4,261 497.1,264 497.8,260.1 498.5,260.8 499.3,260.7 500,263.2 500.7,260.8 501.4,260.8 502.1,263.9 502.9,264.9 503.6,263.5 504.3,256.3 505,259.6 505.7,259.3 506.5,259.7 507.2,261.2 507.9,265.5 508.6,260.6 509.4,259 510.1,262.2 510.8,261.2 511.5,261.5 512.2,259.8 513,261.1 513.7,261.9 514.4,257.9 515.1,258.1 515.8,263.4 516.6,262.4 517.3,259.3 518,258.6 518.7,260.7 519.4,258.4 520.2,259.7 520.9,263.3 521.6,259.5 522.3,261.6 523.1,258.3 523.8,260 524.5,262.1 525.2,256.2 525.9,258.1 526.7,258.1 527.4,258.5 528.1,261.2 528.8,259.4 529.5,254.7 530.3,257.2 531,255.5 531.7,254.9 532.4,259.9 533.1,253.4 533.9,256 534.6,254.1 535.3,257.6 536,256.4 536.8,256.6 537.5,256.3 538.2,258.8 538.9,255.2 539.6,255.4 540.4,255.3 541.1,260.3 541.8,257.7 542.5,256.4 543.2,257.8 544,264.8 544.7,259.8 545.4,261.9 546.1,261.2 546.8,260.4 547.6,259.1 548.3,260 549,259.8 549.7,255.6 550.5,264.7 551.2,260.6 551.9,258.4 552.6,257.2 553.3,255.6 554.1,259.1 554.8,256.5 555.5,257.5 556.2,253.1 556.9,256.2 557.7,259.1 558.4,253.3 559.1,254.5 559.8,251.6 560.5,252.5 561.3,251.8 562,248.9 562.7,246.3 563.4,247.3 564.1,246.3 564.9,245.1 565.6,247.2 566.3,247.1 567,244.5 567.8,246.3 568.5,253.4 569.2,250.3 569.9,249.7 570.6,255.6 571.4,250.5 572.1,247.4 572.8,249.3 573.5,251.1 574.2,255.2 575,256.9 575.7,250.8 576.4,258.2 577.1,253.7 577.8,256.7 578.6,256.9 579.3,255 580,253 580.7,252.1 581.5,248 582.2,249.4 582.9,249.2 583.6,246 584.3,246.6 585.1,240.5 585.8,235.2 586.5,231.2 587.2,217.6 587.9,205.8 588.7,200.9 589.4,209.7 590.1,210.7 590.8,214.1 591.5,214.7 592.3,219.9 593,226.9 593.7,228.3 594.4,229.4 595.2,233.9 595.9,239.7 596.6,236.7 597.3,235.3 598,236.7 598.8,238.8 599.5,243 600.2,241.4 600.9,239 601.6,237.6 602.4,240.1 603.1,239.7 603.8,238.3 604.5,237.7 605.2,236.2 606,240.6 606.7,232.1 607.4,237 608.1,233.6 608.9,236.1 609.6,232.4 610.3,232.2 611,230.9 611.7,229.4 612.5,229.6 613.2,223.5 613.9,226.8 614.6,222.6 615.3,223 616.1,224.5 616.8,222.4 617.5,222.5 618.2,213.4 618.9,216.3 619.7,220.8 620.4,218 621.1,220.2 621.8,224.9 622.6,224.5 623.3,222 624,227 624.7,229.3 625.4,230.9 626.2,233.2 626.9,236 627.6,235.1 628.3,240.1 629,240.1 629.8,244.7 630.5,246.1 631.2,244.7 631.9,249.1 632.6,249.8 633.4,249.6 634.1,251.8 634.8,249.7 635.5,249.8 636.2,251.4 637,251.5 637.7,254.8 638.4,249.1 639.1,254.3 639.9,251.7 640.6,255 641.3,256.7 642,256.3 642.7,258.8 643.5,257.9 644.2,252.1 644.9,256.2 645.6,261.7 646.3,262.2 647.1,259.9 647.8,256.6 648.5,264.3 649.2,256.4 649.9,261.6 650.7,261.1 651.4,261.7 652.1,258.5 652.8,260.1 653.6,263.6 654.3,260.9 655,259.6 655.7,262.5 656.4,262.4 657.2,262.2 657.9,261.7 658.6,265.1 659.3,264.4 660,262.6 660.8,265 661.5,263.9 662.2,264.1 662.9,260.3 663.6,262.5 664.4,265.5 665.1,266.5 665.8,265.7 666.5,266 667.3,267 668,268.1 668.7,269.8 669.4,266.6 670.1,264.7 670.9,266.6 671.6,261.8 672.3,265.9" fill="none" stroke="#007f00" stroke-width="1.1" stroke-linejoin="round" />
<path d="M565.5 105V264.2" stroke="#222" stroke-width="1" stroke-dasharray="5 2 1 2" fill="none"/>
<path d="M589.5 65.7V242.2" stroke="#222" stroke-width="1" stroke-dasharray="5 2 1 2" fill="none"/>
<path d="M617.5 79.8V229.3" stroke="#222" stroke-width="1" stroke-dasharray="5 2 1 2" fill="none"/>
<text x="566.2" y="99.1" font-size="12.8" text-anchor="middle" fill="#111" >505</text>
<text x="593" y="59" font-size="12.8" text-anchor="middle" fill="#111" >570</text>
<text x="617.2" y="73.7" font-size="12.8" text-anchor="middle" fill="#111" >648</text>
<text x="458.5" y="116.8" font-size="11.4" fill="#ff7f00" text-anchor="start"><tspan font-family="'Liberation Serif', serif">&#948;</tspan>-MnO<tspan font-size="7.30" dy="3.42">2</tspan><tspan dy="-3.42">/CNTs-5</tspan></text>
<text x="458.5" y="186.8" font-size="11.4" fill="#0000ff" text-anchor="start"><tspan font-family="'Liberation Serif', serif">&#948;</tspan>-MnO<tspan font-size="7.30" dy="3.42">2</tspan><tspan dy="-3.42">/CNTs-3</tspan></text>
<text x="458.5" y="247" font-size="11.4" fill="#007f00" text-anchor="start"><tspan font-family="'Liberation Serif', serif">&#948;</tspan>-MnO<tspan font-size="7.30" dy="3.42">2</tspan><tspan dy="-3.42">/CNTs-1</tspan></text>
<text x="665.4" y="21.7" font-size="20.5" text-anchor="end" fill="#111" >(b)</text>
<text x="564.2" y="345.4" font-size="15.4" text-anchor="middle" fill="#111"><tspan font-style="italic">Raman shift</tspan> (cm<tspan font-size="10.5" dy="-6.8">-1</tspan><tspan dy="6.8">)</tspan></text>
<text transform="translate(439.6 151) rotate(-90)" font-size="15.4" text-anchor="middle" fill="#111"><tspan font-style="italic">Intensity</tspan> (a.u.)</text>
<rect x="181.5" y="371.2" width="367.9" height="296.2" fill="none" stroke="#1e1e1e" stroke-width="1.3"/>
<path d="M181.5 667.4v5.5 M255.08 667.4v5.5 M328.66 667.4v5.5 M402.24 667.4v5.5 M475.82 667.4v5.5 M549.4 667.4v5.5 M218.29 667.4v3.0 M291.87 667.4v3.0 M365.45 667.4v3.0 M439.03 667.4v3.0 M512.61 667.4v3.0" stroke="#1e1e1e" stroke-width="1.3" fill="none"/>
<path d="M181.5 667.4h-5.5 M181.5 593.35h-5.5 M181.5 519.3h-5.5 M181.5 445.25h-5.5 M181.5 371.2h-5.5 M181.5 630.38h-3.0 M181.5 556.33h-3.0 M181.5 482.27h-3.0 M181.5 408.22h-3.0" stroke="#1e1e1e" stroke-width="1.3" fill="none"/>
<text x="181.5" y="687.2" font-size="12.7" text-anchor="middle" fill="#111" >0.0</text>
<text x="255.08" y="687.2" font-size="12.7" text-anchor="middle" fill="#111" >0.2</text>
<text x="328.66" y="687.2" font-size="12.7" text-anchor="middle" fill="#111" >0.4</text>
<text x="402.24" y="687.2" font-size="12.7" text-anchor="middle" fill="#111" >0.6</text>
<text x="475.82" y="687.2" font-size="12.7" text-anchor="middle" fill="#111" >0.8</text>
<text x="549.4" y="687.2" font-size="12.7" text-anchor="middle" fill="#111" >1.0</text>
<text x="171" y="672" font-size="12.7" text-anchor="end" fill="#111" >0</text>
<text x="171" y="597.95" font-size="12.7" text-anchor="end" fill="#111" >100</text>
<text x="171" y="523.9" font-size="12.7" text-anchor="end" fill="#111" >200</text>
<text x="171" y="449.85" font-size="12.7" text-anchor="end" fill="#111" >300</text>
<text x="171" y="375.8" font-size="12.7" text-anchor="end" fill="#111" >400</text>
<polyline points="191.3,643.4 212,639.4 235,635 255,631.6 270,629.3 290,626 305,623.3 320,620.4 335,616.8 346.3,613.8 355,611.3 364.6,606.9 380,600.4 393.8,594 408.4,587.8 421.5,582.2 439.5,571.2 448,562.5 457.1,553.8 468.4,539 476,528.5 484.3,518.4 496.7,508.9 508.3,500 521.7,487.9 531.7,475.7 537.3,464.5 541.7,452.3 545.1,440 547.9,427.2" fill="none" stroke="#3a9a3a" stroke-width="1.0" stroke-linejoin="round" />
<polyline points="355,611.3 364.6,608.6 380,604.2 393.8,598.5 408.4,591.8 423,584.9 437.6,576.2 450,569.6 467.2,557.4 482.5,542 495.5,525.5 506.2,511.3 517.2,500 527.3,490.2 535.1,477.9 540.6,464.5 544.5,450.1 546.8,436.7 547.9,427.2" fill="none" stroke="#3a9a3a" stroke-width="1.0" stroke-linejoin="round" />
<polyline points="201.4,656.4 250,653.8 305,650.4 352.6,645.6 387.6,642.1 415,639.7 441.3,634.4 454.4,630.9 467.6,626.5 484.5,609.3 487.2,603.4 497.1,583.6 500.3,579.5 509.8,570 523.1,558.6 532.1,545.9 538.4,529.7 543,509.8 546.2,491.7 547.8,478.1" fill="none" stroke="#3333ff" stroke-width="1.0" stroke-linejoin="round" />
<polyline points="201.4,657.3 250,654.6 305,651.2 352.6,646.6 387.6,643.3 415,641 441.3,636.2 454.4,633.1 467.6,630 481.7,623.3 488.1,618.3 497.1,610.2 501.6,600.7 508,586.3 511.6,579 517.4,570 526.7,560.4 536.6,544.1 542.1,526 545.7,506.2 547.8,478.1" fill="none" stroke="#3333ff" stroke-width="1.0" stroke-linejoin="round" />
<polyline points="201.4,659.4 250,657.1 305,654.4 352.6,651.8 387.6,649.2 415,647.1 441.3,642.7 467.6,637 484.5,623.3 490.8,614.3 500.7,601.6 505,598.3 513.3,592.6 521.7,586.7 530,578.4 535.9,569.2 540.1,558.4 543,548.3 545.1,540.5 546.6,534 547.8,527.9" fill="none" stroke="#ff8c33" stroke-width="1.0" stroke-linejoin="round" />
<polyline points="201.4,660.2 250,657.9 305,655.2 352.6,652.6 387.6,650.1 415,647.6 441.3,644 467.6,639.7 481.7,635 496.2,625.1 502.5,617 510,605 515,598.4 524.2,589.2 532.5,580.1 538.4,569.2 541.7,557.5 544.6,548.3 546.2,538.5 547.8,527.9" fill="none" stroke="#ff8c33" stroke-width="1.0" stroke-linejoin="round" />
<path d="M199.4 481.5H234" stroke="#43a043" stroke-width="1.1"/>
<path d="M199.4 506.5H234" stroke="#7a7aff" stroke-width="1.1"/>
<path d="M199.4 530.5H234" stroke="#ffb07a" stroke-width="1.1"/>
<text x="237.7" y="487.4" font-size="15.6" fill="#111"><tspan font-family="'Liberation Serif', serif">&#948;</tspan>&#8211;MnO<tspan font-size="10" dy="4">2</tspan><tspan dy="-4">/CNTs-1</tspan></text>
<text x="237.7" y="511.7" font-size="15.6" fill="#111"><tspan font-family="'Liberation Serif', serif">&#948;</tspan>&#8211;MnO<tspan font-size="10" dy="4">2</tspan><tspan dy="-4">/CNTs-3</tspan></text>
<text x="237.7" y="536.0" font-size="15.6" fill="#111"><tspan font-family="'Liberation Serif', serif">&#948;</tspan>&#8211;MnO<tspan font-size="10" dy="4">2</tspan><tspan dy="-4">/CNTs-5</tspan></text>
<text x="542" y="389.6" font-size="20.5" text-anchor="end" fill="#111" >(c)</text>
<text x="365.5" y="712.2" font-size="15.4" text-anchor="middle" fill="#111"><tspan font-style="italic">Quantity adsorbed</tspan> (cm<tspan font-size="10.5" dy="-6.8">3</tspan><tspan dy="6.8">/g STP)</tspan></text>
<text transform="translate(140.8 519) rotate(-90)" font-size="15.4" text-anchor="middle" fill="#111"><tspan font-style="italic">Relative Pressure</tspan> (P/P<tspan font-size="10.5" dy="4.2">o</tspan><tspan dy="-4.2">)</tspan></text>
</svg>
</body></html>
